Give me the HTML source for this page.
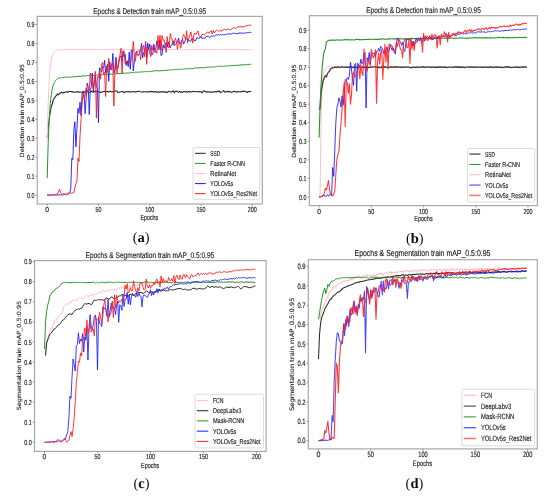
<!DOCTYPE html>
<html lang="en"><head><meta charset="utf-8"><title>Epochs and train mAP_0.5:0.95 curves</title>
<style>
html,body{margin:0;padding:0;background:#fff;}
svg{display:block;font-family:"Liberation Sans",sans-serif;text-rendering:geometricPrecision;}
</style></head><body>
<svg width="550" height="496" viewBox="0 0 550 496">
<defs><filter id="soft" x="0" y="0" width="550" height="496" filterUnits="userSpaceOnUse"><feGaussianBlur stdDeviation="0.38"/></filter></defs>
<rect width="550" height="496" fill="#fff"/>
<g filter="url(#soft)">
<clipPath id="cpa"><rect x="37.2" y="16.4" width="225.10000000000002" height="187.6"/></clipPath>
<g clip-path="url(#cpa)">
<polyline points="47.20,137.52 48.23,127.03 49.25,118.31 50.28,112.05 51.30,106.22 52.33,104.04 53.35,99.36 54.38,98.46 55.40,96.39 56.43,95.48 57.46,93.79 58.48,94.80 59.51,93.47 60.53,93.13 61.56,92.13 62.58,92.97 63.61,92.38 64.63,92.59 65.66,92.06 66.68,91.74 67.71,92.49 68.74,91.39 69.76,91.47 70.79,91.64 71.81,91.44 72.84,92.17 73.86,91.90 74.89,92.28 75.91,91.96 76.94,91.57 77.97,92.15 78.99,92.01 80.02,92.14 81.04,92.22 82.07,92.13 83.09,91.82 84.12,92.34 85.14,91.70 86.17,91.03 87.19,91.46 88.22,91.90 89.25,92.23 90.27,92.17 91.30,91.01 92.32,91.79 93.35,92.12 94.37,91.72 95.40,90.82 96.42,91.76 97.45,91.52 98.48,91.67 99.50,91.98 100.53,92.36 101.55,91.98 102.58,91.91 103.60,91.54 104.63,91.42 105.65,91.37 106.68,91.68 107.70,91.39 108.73,92.17 109.76,91.22 110.78,91.57 111.81,91.95 112.83,91.58 113.86,91.85 114.88,91.28 115.91,91.09 116.93,90.78 117.96,92.48 118.99,92.50 120.01,92.05 121.04,91.74 122.06,91.40 123.09,91.66 124.11,92.77 125.14,91.96 126.16,91.42 127.19,91.70 128.21,91.45 129.24,91.92 130.27,91.91 131.29,91.73 132.32,91.62 133.34,91.72 134.37,91.76 135.39,92.13 136.42,91.63 137.44,91.76 138.47,91.28 139.50,91.24 140.52,91.73 141.55,91.99 142.57,92.12 143.60,91.61 144.62,91.78 145.65,91.98 146.67,91.79 147.70,92.11 148.72,91.48 149.75,92.03 150.78,91.23 151.80,91.62 152.83,91.53 153.85,92.33 154.88,91.73 155.90,91.46 156.93,92.27 157.95,91.94 158.98,91.80 160.00,92.46 161.03,91.66 162.06,91.41 163.08,92.22 164.11,91.65 165.13,92.44 166.16,91.83 167.18,92.58 168.21,91.28 169.23,91.62 170.26,91.83 171.29,92.18 172.31,91.21 173.34,90.88 174.36,92.69 175.39,91.23 176.41,91.04 177.44,91.65 178.46,92.38 179.49,91.40 180.51,91.90 181.54,92.10 182.57,92.40 183.59,91.55 184.62,91.44 185.64,92.11 186.67,91.57 187.69,92.36 188.72,91.43 189.74,91.79 190.77,91.90 191.80,91.86 192.82,91.40 193.85,91.46 194.87,91.56 195.90,91.75 196.92,91.78 197.95,91.52 198.97,91.70 200.00,91.49 201.03,91.96 202.05,92.97 203.08,91.32 204.10,90.78 205.13,91.60 206.15,91.86 207.18,91.88 208.20,91.87 209.23,91.81 210.25,92.35 211.28,92.06 212.31,92.29 213.33,91.70 214.36,91.95 215.38,91.58 216.41,91.90 217.43,91.35 218.46,91.71 219.48,90.77 220.51,92.71 221.54,92.12 222.56,91.39 223.59,90.61 224.61,91.93 225.64,91.79 226.66,91.92 227.69,91.18 228.71,91.95 229.74,91.49 230.76,91.97 231.79,92.42 232.82,91.66 233.84,91.57 234.87,91.20 235.89,91.87 236.92,92.11 237.94,91.55 238.97,91.70 239.99,91.68 241.02,91.85 242.05,91.26 243.07,91.64 244.10,90.91 245.12,91.29 246.15,91.50 247.17,92.59 248.20,91.53 249.22,91.61 250.25,91.43 251.27,91.32" fill="none" stroke="#2a2a2a" stroke-width="1.1" stroke-linejoin="round"/>
<polyline points="47.20,178.19 48.23,141.69 49.25,118.84 50.28,103.54 51.30,94.69 52.33,88.57 53.35,84.54 54.38,82.36 55.40,80.75 56.43,79.69 57.46,78.79 58.48,78.07 59.51,78.10 60.53,78.05 61.56,77.62 62.58,77.66 63.61,77.46 64.63,77.18 65.66,77.39 66.68,77.19 67.71,77.25 68.74,77.06 69.76,76.93 70.79,77.04 71.81,76.87 72.84,76.78 73.86,76.77 74.89,76.78 75.91,76.75 76.94,76.48 77.97,76.43 78.99,75.98 80.02,76.62 81.04,76.16 82.07,76.05 83.09,75.83 84.12,75.88 85.14,76.02 86.17,75.82 87.19,75.66 88.22,75.72 89.25,75.49 90.27,75.82 91.30,75.20 92.32,75.17 93.35,75.37 94.37,75.15 95.40,75.17 96.42,75.23 97.45,75.02 98.48,74.81 99.50,74.95 100.53,74.87 101.55,74.76 102.58,74.61 103.60,74.41 104.63,74.63 105.65,74.38 106.68,74.35 107.70,74.60 108.73,74.31 109.76,74.19 110.78,74.11 111.81,73.98 112.83,74.27 113.86,73.88 114.88,73.92 115.91,73.96 116.93,73.59 117.96,73.49 118.99,73.63 120.01,73.33 121.04,73.44 122.06,73.31 123.09,73.41 124.11,72.93 125.14,73.50 126.16,73.04 127.19,72.85 128.21,73.19 129.24,72.84 130.27,72.76 131.29,72.55 132.32,72.41 133.34,72.59 134.37,72.67 135.39,72.18 136.42,72.13 137.44,72.31 138.47,72.12 139.50,72.04 140.52,71.94 141.55,71.93 142.57,71.67 143.60,72.08 144.62,71.58 145.65,71.61 146.67,71.63 147.70,71.35 148.72,71.81 149.75,71.21 150.78,71.25 151.80,71.41 152.83,71.10 153.85,71.15 154.88,70.64 155.90,70.68 156.93,70.82 157.95,70.92 158.98,70.83 160.00,70.72 161.03,70.68 162.06,70.66 163.08,70.55 164.11,70.43 165.13,70.39 166.16,70.35 167.18,70.31 168.21,69.71 169.23,70.25 170.26,70.11 171.29,69.82 172.31,69.86 173.34,69.68 174.36,69.55 175.39,69.41 176.41,69.41 177.44,69.61 178.46,69.21 179.49,69.58 180.51,69.26 181.54,69.24 182.57,69.26 183.59,68.94 184.62,68.98 185.64,68.73 186.67,69.04 187.69,68.61 188.72,68.59 189.74,68.58 190.77,68.74 191.80,68.49 192.82,68.62 193.85,68.63 194.87,67.74 195.90,68.02 196.92,67.82 197.95,68.09 198.97,67.85 200.00,67.78 201.03,67.72 202.05,67.74 203.08,67.70 204.10,67.91 205.13,67.43 206.15,67.39 207.18,67.21 208.20,67.35 209.23,66.97 210.25,67.23 211.28,67.29 212.31,66.88 213.33,67.02 214.36,67.07 215.38,66.79 216.41,66.62 217.43,66.63 218.46,66.52 219.48,65.90 220.51,66.33 221.54,66.15 222.56,66.61 223.59,66.18 224.61,66.05 225.64,66.15 226.66,66.16 227.69,65.89 228.71,65.93 229.74,65.90 230.76,65.56 231.79,65.46 232.82,65.55 233.84,65.59 234.87,65.37 235.89,65.25 236.92,65.21 237.94,65.46 238.97,65.22 239.99,65.04 241.02,64.93 242.05,64.80 243.07,64.76 244.10,64.98 245.12,64.84 246.15,64.85 247.17,64.32 248.20,64.49 249.22,64.37 250.25,64.22 251.27,64.36" fill="none" stroke="#259425" stroke-width="1.0" stroke-linejoin="round"/>
<polyline points="47.20,142.08 48.23,102.71 49.25,80.11 50.28,67.15 51.30,59.71 52.33,55.44 53.35,53.00 54.38,51.59 55.40,50.79 56.43,50.32 57.46,50.06 58.48,49.91 59.51,49.82 60.53,49.77 61.56,49.74 62.58,49.72 63.61,49.71 64.63,49.71 65.66,49.70 66.68,49.70 67.71,49.70 68.74,49.70 69.76,49.70 70.79,49.70 71.81,49.70 72.84,49.70 73.86,49.70 74.89,49.70 75.91,49.70 76.94,49.70 77.97,49.70 78.99,49.70 80.02,49.70 81.04,49.70 82.07,49.70 83.09,49.70 84.12,49.70 85.14,49.70 86.17,49.70 87.19,49.70 88.22,49.70 89.25,49.70 90.27,49.70 91.30,49.70 92.32,49.70 93.35,49.70 94.37,49.70 95.40,49.70 96.42,49.70 97.45,49.70 98.48,49.70 99.50,49.70 100.53,49.70 101.55,49.70 102.58,49.70 103.60,49.70 104.63,49.70 105.65,49.70 106.68,49.70 107.70,49.70 108.73,49.70 109.76,49.70 110.78,49.70 111.81,49.70 112.83,49.70 113.86,49.70 114.88,49.70 115.91,49.70 116.93,49.70 117.96,49.70 118.99,49.70 120.01,49.70 121.04,49.70 122.06,49.70 123.09,49.70 124.11,49.70 125.14,49.70 126.16,49.70 127.19,49.70 128.21,49.70 129.24,49.70 130.27,49.70 131.29,49.70 132.32,49.70 133.34,49.70 134.37,49.70 135.39,49.70 136.42,49.70 137.44,49.70 138.47,49.70 139.50,49.70 140.52,49.70 141.55,49.70 142.57,49.70 143.60,49.70 144.62,49.70 145.65,49.70 146.67,49.70 147.70,49.70 148.72,49.70 149.75,49.70 150.78,49.70 151.80,49.70 152.83,49.70 153.85,49.70 154.88,49.70 155.90,49.70 156.93,49.70 157.95,49.70 158.98,49.70 160.00,49.70 161.03,49.70 162.06,49.70 163.08,49.70 164.11,49.70 165.13,49.70 166.16,49.70 167.18,49.70 168.21,49.70 169.23,49.70 170.26,49.70 171.29,49.70 172.31,49.70 173.34,49.70 174.36,49.70 175.39,49.70 176.41,49.70 177.44,49.70 178.46,49.70 179.49,49.70 180.51,49.70 181.54,49.70 182.57,49.70 183.59,49.70 184.62,49.70 185.64,49.70 186.67,49.70 187.69,49.70 188.72,49.70 189.74,49.70 190.77,49.70 191.80,49.70 192.82,49.70 193.85,49.70 194.87,49.70 195.90,49.70 196.92,49.70 197.95,49.70 198.97,49.70 200.00,49.70 201.03,49.70 202.05,49.70 203.08,49.70 204.10,49.70 205.13,49.70 206.15,49.70 207.18,49.70 208.20,49.70 209.23,49.70 210.25,49.70 211.28,49.70 212.31,49.70 213.33,49.70 214.36,49.70 215.38,49.70 216.41,49.70 217.43,49.70 218.46,49.70 219.48,49.70 220.51,49.70 221.54,49.70 222.56,49.70 223.59,49.70 224.61,49.70 225.64,49.70 226.66,49.70 227.69,49.70 228.71,49.70 229.74,49.70 230.76,49.70 231.79,49.70 232.82,49.70 233.84,49.70 234.87,49.70 235.89,49.70 236.92,49.70 237.94,49.70 238.97,49.70 239.99,49.70 241.02,49.70 242.05,49.70 243.07,49.70 244.10,49.70 245.12,49.70 246.15,49.70 247.17,49.70 248.20,49.70 249.22,49.70 250.25,49.70 251.27,49.70" fill="none" stroke="#ffbfcb" stroke-width="1.0" stroke-linejoin="round"/>
<polyline points="47.20,194.80 48.23,195.20 49.25,195.20 50.28,195.20 51.30,195.07 52.33,195.16 53.35,195.15 54.38,194.93 55.40,194.84 56.43,195.20 57.46,195.14 58.48,195.04 59.51,194.68 60.53,194.69 61.56,195.16 62.58,195.13 63.61,194.50 64.63,194.26 65.66,194.67 66.68,194.85 67.71,194.26 68.74,194.09 69.76,193.04 70.79,188.22 71.81,158.08 72.84,159.68 73.86,130.31 74.89,121.78 75.91,146.83 76.94,128.68 77.97,108.33 78.99,113.29 80.02,102.14 81.04,115.53 82.07,94.11 83.09,91.27 84.12,94.15 85.14,113.63 86.17,98.67 87.19,83.15 88.22,86.80 89.25,114.58 90.27,89.70 91.30,86.67 92.32,73.10 93.35,92.21 94.37,82.29 95.40,76.20 96.42,87.26 97.45,88.26 98.48,122.73 99.50,67.75 100.53,69.50 101.55,72.03 102.58,66.88 103.60,68.06 104.63,60.32 105.65,73.13 106.68,67.93 107.70,63.89 108.73,81.25 109.76,62.04 110.78,69.57 111.81,69.60 112.83,53.45 113.86,73.03 114.88,70.53 115.91,57.23 116.93,67.61 117.96,68.02 118.99,61.80 120.01,56.93 121.04,55.76 122.06,61.38 123.09,50.78 124.11,56.92 125.14,54.29 126.16,65.47 127.19,60.68 128.21,66.62 129.24,52.14 130.27,69.15 131.29,49.95 132.32,49.91 133.34,70.95 134.37,60.43 135.39,54.52 136.42,51.45 137.44,55.18 138.47,55.30 139.50,52.84 140.52,51.19 141.55,43.42 142.57,57.94 143.60,52.65 144.62,51.37 145.65,44.45 146.67,57.85 147.70,42.96 148.72,49.76 149.75,43.96 150.78,51.17 151.80,54.90 152.83,53.97 153.85,44.19 154.88,50.78 155.90,47.67 156.93,40.78 157.95,43.72 158.98,49.61 160.00,40.04 161.03,55.49 162.06,54.89 163.08,44.71 164.11,48.33 165.13,45.26 166.16,42.58 167.18,46.91 168.21,41.75 169.23,45.64 170.26,47.88 171.29,44.93 172.31,44.77 173.34,40.73 174.36,45.54 175.39,44.44 176.41,43.22 177.44,42.27 178.46,38.05 179.49,42.50 180.51,44.06 181.54,40.75 182.57,39.31 183.59,44.12 184.62,42.41 185.64,38.91 186.67,38.48 187.69,39.79 188.72,40.26 189.74,40.76 190.77,41.40 191.80,38.64 192.82,39.33 193.85,39.41 194.87,41.06 195.90,40.07 196.92,37.66 197.95,37.83 198.97,38.52 200.00,37.86 201.03,36.79 202.05,38.62 203.08,37.87 204.10,38.36 205.13,38.03 206.15,36.62 207.18,36.40 208.20,36.38 209.23,37.24 210.25,37.16 211.28,36.18 212.31,36.41 213.33,35.84 214.36,36.11 215.38,35.36 216.41,34.96 217.43,34.78 218.46,34.64 219.48,35.10 220.51,34.65 221.54,35.01 222.56,34.47 223.59,34.74 224.61,34.71 225.64,34.63 226.66,34.03 227.69,33.99 228.71,33.88 229.74,34.18 230.76,33.64 231.79,34.00 232.82,33.09 233.84,33.47 234.87,33.32 235.89,33.39 236.92,33.74 237.94,33.57 238.97,33.18 239.99,32.69 241.02,33.34 242.05,33.14 243.07,32.91 244.10,33.24 245.12,33.17 246.15,32.82 247.17,32.70 248.20,32.69 249.22,32.23 250.25,32.52 251.27,32.38" fill="none" stroke="#1a1aff" stroke-width="0.9" stroke-linejoin="round"/>
<polyline points="47.20,195.10 48.23,195.20 49.25,195.00 50.28,195.20 51.30,194.71 52.33,195.20 53.35,194.72 54.38,194.73 55.40,194.82 56.43,193.97 57.46,194.61 58.48,191.84 59.51,189.09 60.53,192.35 61.56,193.79 62.58,194.20 63.61,193.55 64.63,194.18 65.66,194.10 66.68,193.13 67.71,193.19 68.74,193.31 69.76,192.85 70.79,192.76 71.81,193.41 72.84,193.01 73.86,192.28 74.89,187.92 75.91,183.62 76.94,180.89 77.97,158.18 78.99,161.53 80.02,136.24 81.04,119.72 82.07,104.90 83.09,93.04 84.12,99.08 85.14,95.32 86.17,88.21 87.19,91.64 88.22,89.17 89.25,90.54 90.27,73.16 91.30,85.13 92.32,82.75 93.35,89.20 94.37,78.85 95.40,71.38 96.42,118.18 97.45,76.61 98.48,77.58 99.50,71.96 100.53,79.17 101.55,64.52 102.58,62.23 103.60,74.60 104.63,72.38 105.65,96.56 106.68,65.95 107.70,72.26 108.73,58.32 109.76,67.31 110.78,69.61 111.81,63.78 112.83,64.03 113.86,106.04 114.88,71.46 115.91,59.03 116.93,73.38 117.96,66.11 118.99,59.39 120.01,54.72 121.04,48.26 122.06,73.79 123.09,52.38 124.11,51.07 125.14,63.96 126.16,61.72 127.19,63.53 128.21,63.15 129.24,61.92 130.27,63.43 131.29,58.61 132.32,55.14 133.34,41.30 134.37,56.49 135.39,61.22 136.42,53.24 137.44,51.35 138.47,51.04 139.50,50.32 140.52,59.74 141.55,51.36 142.57,47.21 143.60,45.23 144.62,56.66 145.65,41.23 146.67,64.31 147.70,48.78 148.72,49.17 149.75,53.17 150.78,56.66 151.80,45.30 152.83,50.25 153.85,46.56 154.88,52.66 155.90,50.98 156.93,53.27 157.95,35.62 158.98,47.16 160.00,35.40 161.03,50.46 162.06,35.53 163.08,40.16 164.11,39.75 165.13,45.07 166.16,52.62 167.18,36.63 168.21,47.47 169.23,47.14 170.26,33.47 171.29,37.52 172.31,40.15 173.34,45.06 174.36,42.93 175.39,38.10 176.41,41.55 177.44,49.27 178.46,42.09 179.49,40.96 180.51,48.14 181.54,45.21 182.57,37.24 183.59,34.47 184.62,36.49 185.64,39.77 186.67,30.89 187.69,42.88 188.72,38.52 189.74,35.69 190.77,32.00 191.80,36.40 192.82,43.07 193.85,35.12 194.87,32.92 195.90,34.37 196.92,32.73 197.95,30.99 198.97,35.50 200.00,37.08 201.03,36.77 202.05,34.58 203.08,34.23 204.10,35.04 205.13,34.36 206.15,33.12 207.18,32.17 208.20,32.34 209.23,33.23 210.25,31.21 211.28,30.90 212.31,34.12 213.33,30.36 214.36,32.94 215.38,31.93 216.41,30.09 217.43,30.32 218.46,31.36 219.48,30.98 220.51,30.12 221.54,31.42 222.56,29.74 223.59,29.81 224.61,29.16 225.64,29.67 226.66,30.22 227.69,28.81 228.71,29.31 229.74,29.63 230.76,29.50 231.79,29.00 232.82,28.32 233.84,27.49 234.87,27.96 235.89,28.27 236.92,27.75 237.94,26.87 238.97,26.56 239.99,27.27 241.02,26.58 242.05,26.58 243.07,27.18 244.10,26.68 245.12,26.05 246.15,25.83 247.17,25.65 248.20,25.52 249.22,24.96 250.25,25.16 251.27,25.20" fill="none" stroke="#ff1a1a" stroke-width="0.9" stroke-linejoin="round"/>
</g>
<rect x="37.2" y="16.4" width="225.10" height="187.60" fill="none" stroke="#a8a8a8" stroke-width="1.2"/>
<line x1="35.40" x2="37.20" y1="195.20" y2="195.20" stroke="#777" stroke-width="0.7"/>
<text x="26.90" y="197.80" font-size="7.3" textLength="7.50" lengthAdjust="spacingAndGlyphs" fill="#1a1a1a" stroke="#1a1a1a" stroke-width="0.15" >0.0</text>
<line x1="35.40" x2="37.20" y1="176.23" y2="176.23" stroke="#777" stroke-width="0.7"/>
<text x="26.90" y="178.83" font-size="7.3" textLength="7.50" lengthAdjust="spacingAndGlyphs" fill="#1a1a1a" stroke="#1a1a1a" stroke-width="0.15" >0.1</text>
<line x1="35.40" x2="37.20" y1="157.26" y2="157.26" stroke="#777" stroke-width="0.7"/>
<text x="26.90" y="159.86" font-size="7.3" textLength="7.50" lengthAdjust="spacingAndGlyphs" fill="#1a1a1a" stroke="#1a1a1a" stroke-width="0.15" >0.2</text>
<line x1="35.40" x2="37.20" y1="138.29" y2="138.29" stroke="#777" stroke-width="0.7"/>
<text x="26.90" y="140.89" font-size="7.3" textLength="7.50" lengthAdjust="spacingAndGlyphs" fill="#1a1a1a" stroke="#1a1a1a" stroke-width="0.15" >0.3</text>
<line x1="35.40" x2="37.20" y1="119.32" y2="119.32" stroke="#777" stroke-width="0.7"/>
<text x="26.90" y="121.92" font-size="7.3" textLength="7.50" lengthAdjust="spacingAndGlyphs" fill="#1a1a1a" stroke="#1a1a1a" stroke-width="0.15" >0.4</text>
<line x1="35.40" x2="37.20" y1="100.35" y2="100.35" stroke="#777" stroke-width="0.7"/>
<text x="26.90" y="102.95" font-size="7.3" textLength="7.50" lengthAdjust="spacingAndGlyphs" fill="#1a1a1a" stroke="#1a1a1a" stroke-width="0.15" >0.5</text>
<line x1="35.40" x2="37.20" y1="81.38" y2="81.38" stroke="#777" stroke-width="0.7"/>
<text x="26.90" y="83.98" font-size="7.3" textLength="7.50" lengthAdjust="spacingAndGlyphs" fill="#1a1a1a" stroke="#1a1a1a" stroke-width="0.15" >0.6</text>
<line x1="35.40" x2="37.20" y1="62.41" y2="62.41" stroke="#777" stroke-width="0.7"/>
<text x="26.90" y="65.01" font-size="7.3" textLength="7.50" lengthAdjust="spacingAndGlyphs" fill="#1a1a1a" stroke="#1a1a1a" stroke-width="0.15" >0.7</text>
<line x1="35.40" x2="37.20" y1="43.44" y2="43.44" stroke="#777" stroke-width="0.7"/>
<text x="26.90" y="46.04" font-size="7.3" textLength="7.50" lengthAdjust="spacingAndGlyphs" fill="#1a1a1a" stroke="#1a1a1a" stroke-width="0.15" >0.8</text>
<line x1="35.40" x2="37.20" y1="24.47" y2="24.47" stroke="#777" stroke-width="0.7"/>
<text x="26.90" y="27.07" font-size="7.3" textLength="7.50" lengthAdjust="spacingAndGlyphs" fill="#1a1a1a" stroke="#1a1a1a" stroke-width="0.15" >0.9</text>
<line x1="47.20" x2="47.20" y1="204.00" y2="205.80" stroke="#777" stroke-width="0.7"/>
<text x="45.33" y="212.00" font-size="7.3" textLength="3.75" lengthAdjust="spacingAndGlyphs" fill="#1a1a1a" stroke="#1a1a1a" stroke-width="0.15" >0</text>
<line x1="98.48" x2="98.48" y1="204.00" y2="205.80" stroke="#777" stroke-width="0.7"/>
<text x="95.48" y="212.00" font-size="7.3" textLength="6.00" lengthAdjust="spacingAndGlyphs" fill="#1a1a1a" stroke="#1a1a1a" stroke-width="0.15" >50</text>
<line x1="149.75" x2="149.75" y1="204.00" y2="205.80" stroke="#777" stroke-width="0.7"/>
<text x="145.25" y="212.00" font-size="7.3" textLength="9.00" lengthAdjust="spacingAndGlyphs" fill="#1a1a1a" stroke="#1a1a1a" stroke-width="0.15" >100</text>
<line x1="201.03" x2="201.03" y1="204.00" y2="205.80" stroke="#777" stroke-width="0.7"/>
<text x="196.53" y="212.00" font-size="7.3" textLength="9.00" lengthAdjust="spacingAndGlyphs" fill="#1a1a1a" stroke="#1a1a1a" stroke-width="0.15" >150</text>
<line x1="252.30" x2="252.30" y1="204.00" y2="205.80" stroke="#777" stroke-width="0.7"/>
<text x="247.80" y="212.00" font-size="7.3" textLength="9.00" lengthAdjust="spacingAndGlyphs" fill="#1a1a1a" stroke="#1a1a1a" stroke-width="0.15" >200</text>
<text x="140.40" y="220.00" font-size="7.3" textLength="17.80" lengthAdjust="spacingAndGlyphs" fill="#1a1a1a" stroke="#1a1a1a" stroke-width="0.15" >Epochs</text>
<text transform="translate(23.80,157.15) rotate(-90)" font-family="DejaVu Sans, sans-serif" font-size="5.7" textLength="93.30" lengthAdjust="spacingAndGlyphs" fill="#1a1a1a" stroke="#1a1a1a" stroke-width="0.1">Detection train mAP_0.5:0.95</text>
<text x="93.30" y="13.80" font-size="8.3" textLength="112.80" lengthAdjust="spacingAndGlyphs" fill="#1a1a1a" stroke="#1a1a1a" stroke-width="0.15" >Epochs &amp; Detection train mAP_0.5:0.95</text>
<rect x="193.00" y="147.50" width="66.70" height="52.10" rx="1.2" fill="#fff" fill-opacity="0.85" stroke="#d4d4d4" stroke-width="0.8"/>
<line x1="195.00" x2="205.70" y1="153.30" y2="153.30" stroke="#222" stroke-width="1.0"/>
<text x="210.30" y="155.75" font-size="7.1" textLength="9.90" lengthAdjust="spacingAndGlyphs" fill="#1a1a1a" stroke="#1a1a1a" stroke-width="0.15" >SSD</text>
<line x1="195.00" x2="205.70" y1="163.40" y2="163.40" stroke="#259425" stroke-width="1.0"/>
<text x="210.30" y="165.85" font-size="7.1" textLength="34.60" lengthAdjust="spacingAndGlyphs" fill="#1a1a1a" stroke="#1a1a1a" stroke-width="0.15" >Faster R-CNN</text>
<line x1="195.00" x2="205.70" y1="173.50" y2="173.50" stroke="#ffbfcb" stroke-width="1.0"/>
<text x="210.30" y="175.95" font-size="7.1" textLength="25.70" lengthAdjust="spacingAndGlyphs" fill="#1a1a1a" stroke="#1a1a1a" stroke-width="0.15" >RetinaNet</text>
<line x1="195.00" x2="205.70" y1="183.60" y2="183.60" stroke="#1a1aff" stroke-width="1.0"/>
<text x="210.30" y="186.05" font-size="7.1" textLength="22.90" lengthAdjust="spacingAndGlyphs" fill="#1a1a1a" stroke="#1a1a1a" stroke-width="0.15" >YOLOv5s</text>
<line x1="195.00" x2="205.70" y1="193.70" y2="193.70" stroke="#ff1a1a" stroke-width="1.0"/>
<text x="210.30" y="196.15" font-size="7.1" textLength="46.80" lengthAdjust="spacingAndGlyphs" fill="#1a1a1a" stroke="#1a1a1a" stroke-width="0.15" >YOLOv5s_Res2Net</text>
<text x="141.20" y="242.30" font-family="Liberation Serif, serif" font-size="14.5" text-anchor="middle" fill="#111">(<tspan font-weight="bold">a</tspan>)</text>
<clipPath id="cpb"><rect x="309.4" y="15.7" width="228.0" height="189.9"/></clipPath>
<g clip-path="url(#cpb)">
<polyline points="319.10,196.92 320.14,193.35 321.19,113.07 322.23,82.04 323.28,74.55 324.32,71.03 325.37,68.25 326.41,67.26 327.46,66.19 328.50,66.28 329.55,66.44 330.59,66.26 331.63,66.29 332.68,66.11 333.72,66.53 334.77,66.35 335.81,66.01 336.86,65.88 337.90,66.50 338.95,66.10 339.99,66.40 341.03,66.38 342.08,66.38 343.12,66.30 344.17,66.04 345.21,66.09 346.26,66.30 347.30,66.48 348.35,66.50 349.39,66.61 350.44,66.54 351.48,66.90 352.52,66.87 353.57,66.98 354.61,67.07 355.66,67.10 356.70,67.11 357.75,66.90 358.79,67.17 359.84,66.86 360.88,67.21 361.92,67.24 362.97,67.13 364.01,67.08 365.06,67.10 366.10,66.91 367.15,66.94 368.19,67.06 369.24,67.21 370.28,67.17 371.33,66.89 372.37,67.11 373.41,67.39 374.46,67.28 375.50,67.26 376.55,66.94 377.59,67.17 378.64,66.73 379.68,67.03 380.73,67.13 381.77,67.23 382.81,66.97 383.86,67.19 384.90,67.30 385.95,67.04 386.99,67.15 388.04,66.93 389.08,67.16 390.13,67.68 391.17,67.00 392.22,67.50 393.26,66.86 394.30,66.81 395.35,67.23 396.39,67.37 397.44,67.41 398.48,66.99 399.53,67.19 400.57,67.26 401.62,67.20 402.66,66.76 403.70,67.09 404.75,67.01 405.79,67.01 406.84,66.96 407.88,66.95 408.93,67.28 409.97,67.19 411.02,67.29 412.06,67.28 413.11,66.94 414.15,67.24 415.19,67.16 416.24,67.28 417.28,67.26 418.33,67.00 419.37,67.23 420.42,67.24 421.46,67.06 422.51,67.06 423.55,67.00 424.59,67.12 425.64,67.48 426.68,67.03 427.73,67.06 428.77,66.96 429.82,67.31 430.86,66.68 431.91,67.38 432.95,67.02 434.00,67.14 435.04,67.24 436.08,67.00 437.13,67.20 438.17,67.58 439.22,67.37 440.26,67.07 441.31,66.73 442.35,67.42 443.40,67.15 444.44,66.88 445.48,67.04 446.53,67.22 447.57,67.41 448.62,67.48 449.66,67.29 450.71,67.22 451.75,67.57 452.80,67.46 453.84,67.09 454.88,67.23 455.93,67.29 456.97,67.23 458.02,67.30 459.06,66.98 460.11,66.85 461.15,66.77 462.20,67.02 463.24,67.01 464.29,66.88 465.33,66.83 466.37,66.88 467.42,66.93 468.46,67.27 469.51,67.45 470.55,66.99 471.60,67.17 472.64,67.16 473.69,67.31 474.73,67.39 475.78,66.89 476.82,67.06 477.86,67.35 478.91,67.08 479.95,67.09 481.00,67.05 482.04,66.74 483.09,67.16 484.13,67.39 485.18,67.14 486.22,67.27 487.26,67.05 488.31,67.11 489.35,67.09 490.40,67.26 491.44,67.07 492.49,67.24 493.53,67.05 494.58,67.21 495.62,67.36 496.67,67.06 497.71,67.28 498.75,66.88 499.80,67.07 500.84,67.06 501.89,67.13 502.93,67.16 503.98,67.59 505.02,66.92 506.07,67.30 507.11,66.97 508.15,67.27 509.20,67.18 510.24,67.19 511.29,67.34 512.33,67.18 513.38,67.06 514.42,67.23 515.47,67.38 516.51,67.26 517.56,67.10 518.60,66.94 519.64,66.99 520.69,67.10 521.73,67.33 522.78,66.98 523.82,67.15 524.87,67.19 525.91,66.98 526.96,67.04" fill="none" stroke="#ffbfcb" stroke-width="1.0" stroke-linejoin="round"/>
<polyline points="319.10,109.42 320.14,107.86 321.19,91.24 322.23,86.11 323.28,80.20 324.32,77.90 325.37,75.52 326.41,76.94 327.46,73.65 328.50,72.20 329.55,70.84 330.59,68.81 331.63,68.35 332.68,67.70 333.72,67.60 334.77,67.24 335.81,67.27 336.86,67.49 337.90,66.93 338.95,67.40 339.99,67.41 341.03,67.20 342.08,66.82 343.12,67.10 344.17,67.38 345.21,67.31 346.26,67.01 347.30,67.19 348.35,67.32 349.39,67.20 350.44,66.98 351.48,66.71 352.52,67.43 353.57,67.29 354.61,67.33 355.66,67.69 356.70,67.36 357.75,67.38 358.79,66.90 359.84,67.18 360.88,67.51 361.92,67.01 362.97,67.23 364.01,67.54 365.06,67.28 366.10,67.28 367.15,67.34 368.19,67.14 369.24,67.65 370.28,67.21 371.33,66.92 372.37,66.96 373.41,66.90 374.46,66.90 375.50,66.82 376.55,67.40 377.59,66.96 378.64,67.56 379.68,67.28 380.73,67.58 381.77,66.92 382.81,66.85 383.86,67.19 384.90,66.75 385.95,67.30 386.99,67.12 388.04,67.12 389.08,67.39 390.13,67.05 391.17,66.72 392.22,67.38 393.26,66.95 394.30,67.18 395.35,66.76 396.39,67.04 397.44,67.00 398.48,67.01 399.53,67.09 400.57,67.46 401.62,66.84 402.66,67.46 403.70,67.10 404.75,67.01 405.79,67.34 406.84,67.12 407.88,66.89 408.93,67.16 409.97,67.35 411.02,67.80 412.06,67.37 413.11,67.28 414.15,67.26 415.19,67.36 416.24,67.07 417.28,67.28 418.33,67.17 419.37,67.00 420.42,67.34 421.46,67.22 422.51,66.67 423.55,66.96 424.59,67.44 425.64,67.17 426.68,67.02 427.73,66.88 428.77,67.12 429.82,67.27 430.86,67.31 431.91,67.01 432.95,67.08 434.00,67.27 435.04,67.19 436.08,67.24 437.13,66.99 438.17,67.30 439.22,67.04 440.26,66.96 441.31,67.04 442.35,67.34 443.40,66.85 444.44,67.30 445.48,67.06 446.53,67.32 447.57,67.54 448.62,67.10 449.66,67.09 450.71,67.17 451.75,67.09 452.80,67.29 453.84,67.31 454.88,67.19 455.93,66.72 456.97,66.97 458.02,67.27 459.06,67.03 460.11,67.26 461.15,67.25 462.20,66.96 463.24,67.27 464.29,67.52 465.33,67.35 466.37,67.13 467.42,67.12 468.46,66.87 469.51,67.31 470.55,66.99 471.60,67.06 472.64,67.18 473.69,66.96 474.73,67.04 475.78,67.34 476.82,66.91 477.86,67.42 478.91,67.14 479.95,67.15 481.00,67.06 482.04,67.31 483.09,67.16 484.13,67.18 485.18,66.93 486.22,67.33 487.26,67.13 488.31,67.21 489.35,67.44 490.40,66.55 491.44,67.17 492.49,67.48 493.53,66.84 494.58,67.39 495.62,67.07 496.67,66.96 497.71,67.29 498.75,67.25 499.80,67.27 500.84,67.18 501.89,67.51 502.93,67.43 503.98,67.18 505.02,66.92 506.07,67.01 507.11,66.77 508.15,67.00 509.20,67.26 510.24,67.18 511.29,67.60 512.33,67.36 513.38,67.38 514.42,67.09 515.47,67.01 516.51,67.27 517.56,67.28 518.60,67.49 519.64,67.18 520.69,67.09 521.73,67.05 522.78,67.32 523.82,66.71 524.87,66.88 525.91,67.17 526.96,67.27" fill="none" stroke="#000" stroke-width="1.4" stroke-linejoin="round" stroke-opacity="0.72"/>
<polyline points="319.10,137.63 320.14,104.18 321.19,82.14 322.23,67.05 323.28,56.08 324.32,50.69 325.37,48.70 326.41,42.02 327.46,41.13 328.50,40.42 329.55,40.14 330.59,40.22 331.63,40.12 332.68,40.11 333.72,40.31 334.77,40.06 335.81,40.18 336.86,39.84 337.90,39.94 338.95,40.02 339.99,40.15 341.03,39.97 342.08,39.93 343.12,40.12 344.17,39.58 345.21,39.83 346.26,39.62 347.30,40.01 348.35,39.58 349.39,40.00 350.44,39.87 351.48,39.67 352.52,39.73 353.57,40.06 354.61,39.85 355.66,39.54 356.70,39.33 357.75,39.48 358.79,39.64 359.84,39.46 360.88,39.72 361.92,39.45 362.97,39.71 364.01,39.48 365.06,39.48 366.10,39.32 367.15,39.46 368.19,39.21 369.24,39.40 370.28,39.22 371.33,39.21 372.37,39.58 373.41,39.28 374.46,39.26 375.50,39.37 376.55,39.21 377.59,39.43 378.64,39.11 379.68,39.10 380.73,39.11 381.77,38.77 382.81,39.07 383.86,39.09 384.90,39.19 385.95,39.02 386.99,39.19 388.04,38.84 389.08,39.11 390.13,38.97 391.17,38.68 392.22,38.78 393.26,38.90 394.30,38.71 395.35,38.91 396.39,38.76 397.44,38.86 398.48,38.98 399.53,38.76 400.57,38.67 401.62,38.84 402.66,38.93 403.70,38.83 404.75,39.08 405.79,38.80 406.84,38.85 407.88,38.38 408.93,38.74 409.97,38.87 411.02,38.49 412.06,38.63 413.11,38.58 414.15,38.54 415.19,38.51 416.24,38.58 417.28,38.37 418.33,38.41 419.37,38.55 420.42,38.48 421.46,38.57 422.51,38.37 423.55,38.29 424.59,38.29 425.64,38.29 426.68,38.39 427.73,38.13 428.77,38.38 429.82,38.34 430.86,38.38 431.91,38.31 432.95,38.35 434.00,38.00 435.04,38.23 436.08,38.53 437.13,38.34 438.17,38.48 439.22,38.13 440.26,38.04 441.31,38.31 442.35,38.14 443.40,38.25 444.44,38.15 445.48,37.94 446.53,38.24 447.57,38.37 448.62,38.07 449.66,38.09 450.71,38.05 451.75,37.99 452.80,38.24 453.84,38.42 454.88,37.96 455.93,38.17 456.97,38.28 458.02,38.26 459.06,37.91 460.11,38.04 461.15,38.02 462.20,37.92 463.24,38.14 464.29,38.20 465.33,38.15 466.37,38.18 467.42,38.05 468.46,38.13 469.51,37.98 470.55,38.05 471.60,37.98 472.64,37.86 473.69,37.74 474.73,37.71 475.78,37.91 476.82,37.89 477.86,37.99 478.91,37.75 479.95,37.66 481.00,37.97 482.04,37.76 483.09,37.91 484.13,37.88 485.18,37.82 486.22,37.89 487.26,37.69 488.31,38.04 489.35,37.91 490.40,37.82 491.44,37.94 492.49,37.73 493.53,37.99 494.58,37.75 495.62,37.96 496.67,37.76 497.71,37.66 498.75,37.40 499.80,37.55 500.84,37.46 501.89,37.68 502.93,37.37 503.98,37.71 505.02,37.70 506.07,37.85 507.11,37.62 508.15,37.48 509.20,37.72 510.24,37.67 511.29,37.68 512.33,37.65 513.38,37.68 514.42,37.78 515.47,37.37 516.51,37.86 517.56,37.69 518.60,37.49 519.64,37.39 520.69,37.56 521.73,37.56 522.78,37.50 523.82,37.54 524.87,37.36 525.91,37.55 526.96,37.62" fill="none" stroke="#259425" stroke-width="1.1" stroke-linejoin="round"/>
<polyline points="319.10,197.00 320.14,196.82 321.19,196.43 322.23,196.69 323.28,195.47 324.32,195.14 325.37,197.00 326.41,195.95 327.46,194.49 328.50,196.28 329.55,195.41 330.59,193.87 331.63,195.65 332.68,167.50 333.72,176.37 334.77,150.79 335.81,122.72 336.86,108.05 337.90,104.30 338.95,97.93 339.99,101.25 341.03,107.17 342.08,95.85 343.12,105.23 344.17,93.25 345.21,79.51 346.26,80.77 347.30,77.69 348.35,79.47 349.39,75.50 350.44,62.31 351.48,68.97 352.52,79.05 353.57,85.28 354.61,64.42 355.66,63.29 356.70,91.27 357.75,63.18 358.79,66.72 359.84,65.80 360.88,59.05 361.92,63.72 362.97,61.76 364.01,53.87 365.06,52.48 366.10,107.96 367.15,57.73 368.19,60.74 369.24,52.43 370.28,64.42 371.33,54.75 372.37,53.21 373.41,53.62 374.46,53.15 375.50,56.76 376.55,51.52 377.59,51.43 378.64,48.33 379.68,51.22 380.73,46.40 381.77,47.58 382.81,49.29 383.86,53.66 384.90,53.35 385.95,49.54 386.99,46.91 388.04,52.41 389.08,50.71 390.13,45.28 391.17,47.57 392.22,50.30 393.26,47.86 394.30,50.91 395.35,54.15 396.39,43.19 397.44,38.46 398.48,38.20 399.53,41.12 400.57,41.66 401.62,45.29 402.66,42.33 403.70,49.63 404.75,51.46 405.79,43.61 406.84,38.92 407.88,39.71 408.93,39.51 409.97,39.25 411.02,42.47 412.06,45.88 413.11,41.09 414.15,45.47 415.19,41.20 416.24,38.28 417.28,41.27 418.33,38.81 419.37,40.90 420.42,37.57 421.46,42.79 422.51,42.15 423.55,36.71 424.59,41.15 425.64,39.44 426.68,37.00 427.73,36.45 428.77,37.72 429.82,38.64 430.86,37.20 431.91,39.90 432.95,39.21 434.00,39.06 435.04,36.96 436.08,36.79 437.13,38.39 438.17,36.08 439.22,38.14 440.26,36.54 441.31,36.95 442.35,36.39 443.40,36.77 444.44,36.90 445.48,34.84 446.53,37.30 447.57,35.45 448.62,35.90 449.66,36.15 450.71,36.56 451.75,35.26 452.80,35.20 453.84,34.09 454.88,34.98 455.93,35.62 456.97,35.24 458.02,33.78 459.06,33.97 460.11,34.51 461.15,32.80 462.20,33.62 463.24,33.88 464.29,33.47 465.33,34.13 466.37,33.49 467.42,33.89 468.46,32.87 469.51,32.88 470.55,33.13 471.60,32.38 472.64,33.24 473.69,32.48 474.73,32.82 475.78,33.10 476.82,32.19 477.86,31.71 478.91,31.74 479.95,32.23 481.00,32.08 482.04,31.43 483.09,32.57 484.13,31.33 485.18,32.65 486.22,32.27 487.26,31.90 488.31,31.80 489.35,31.27 490.40,31.91 491.44,31.54 492.49,31.55 493.53,31.20 494.58,30.96 495.62,30.84 496.67,30.91 497.71,30.88 498.75,30.86 499.80,31.35 500.84,31.35 501.89,30.58 502.93,31.09 503.98,30.75 505.02,30.40 506.07,30.50 507.11,30.51 508.15,30.52 509.20,30.09 510.24,29.62 511.29,30.48 512.33,30.03 513.38,29.57 514.42,29.76 515.47,29.91 516.51,29.71 517.56,29.55 518.60,29.29 519.64,29.94 520.69,29.71 521.73,29.36 522.78,29.23 523.82,29.22 524.87,29.15 525.91,28.95 526.96,29.00" fill="none" stroke="#1a1aff" stroke-width="0.95" stroke-linejoin="round" stroke-opacity="0.9"/>
<polyline points="319.10,197.00 320.14,196.98 321.19,196.31 322.23,196.31 323.28,194.86 324.32,193.50 325.37,188.45 326.41,189.83 327.46,185.72 328.50,180.45 329.55,189.56 330.59,194.85 331.63,195.26 332.68,195.86 333.72,194.02 334.77,191.12 335.81,174.51 336.86,159.61 337.90,154.83 338.95,151.06 339.99,135.31 341.03,123.21 342.08,108.25 343.12,93.62 344.17,82.72 345.21,126.51 346.26,81.26 347.30,82.86 348.35,93.11 349.39,83.68 350.44,104.25 351.48,95.77 352.52,74.74 353.57,72.14 354.61,77.05 355.66,76.43 356.70,73.44 357.75,68.72 358.79,66.29 359.84,78.71 360.88,65.11 361.92,72.97 362.97,75.39 364.01,48.95 365.06,63.62 366.10,67.91 367.15,71.06 368.19,59.81 369.24,63.12 370.28,65.26 371.33,49.35 372.37,55.62 373.41,57.96 374.46,54.50 375.50,49.70 376.55,103.32 377.59,61.89 378.64,52.91 379.68,63.97 380.73,52.35 381.77,49.50 382.81,79.58 383.86,58.84 384.90,44.09 385.95,62.24 386.99,46.87 388.04,69.01 389.08,43.97 390.13,44.50 391.17,45.48 392.22,46.25 393.26,49.74 394.30,52.25 395.35,50.64 396.39,42.63 397.44,46.37 398.48,39.46 399.53,45.31 400.57,49.60 401.62,50.10 402.66,57.88 403.70,42.73 404.75,38.81 405.79,39.54 406.84,47.76 407.88,47.39 408.93,39.76 409.97,63.44 411.02,38.05 412.06,49.03 413.11,41.61 414.15,50.71 415.19,42.09 416.24,42.72 417.28,40.96 418.33,39.29 419.37,39.91 420.42,38.84 421.46,39.06 422.51,52.31 423.55,33.35 424.59,39.79 425.64,35.71 426.68,39.08 427.73,40.62 428.77,38.82 429.82,35.74 430.86,39.75 431.91,34.11 432.95,38.39 434.00,35.63 435.04,34.68 436.08,36.02 437.13,48.04 438.17,38.38 439.22,35.52 440.26,44.89 441.31,34.00 442.35,36.30 443.40,36.26 444.44,31.69 445.48,35.21 446.53,33.62 447.57,41.92 448.62,32.28 449.66,38.15 450.71,35.14 451.75,35.65 452.80,33.47 453.84,33.49 454.88,35.74 455.93,33.04 456.97,34.04 458.02,31.67 459.06,32.98 460.11,31.96 461.15,32.94 462.20,33.04 463.24,32.89 464.29,30.91 465.33,30.27 466.37,33.25 467.42,30.78 468.46,30.84 469.51,29.65 470.55,31.62 471.60,29.64 472.64,31.83 473.69,30.08 474.73,30.53 475.78,30.56 476.82,29.02 477.86,29.32 478.91,28.81 479.95,29.83 481.00,30.20 482.04,28.31 483.09,28.88 484.13,29.55 485.18,28.12 486.22,27.63 487.26,29.87 488.31,28.67 489.35,27.43 490.40,28.67 491.44,27.02 492.49,27.97 493.53,27.47 494.58,27.52 495.62,28.48 496.67,27.50 497.71,27.95 498.75,27.42 499.80,26.54 500.84,26.47 501.89,27.13 502.93,26.48 503.98,25.85 505.02,26.42 506.07,26.71 507.11,25.90 508.15,26.55 509.20,26.63 510.24,24.96 511.29,26.27 512.33,25.55 513.38,25.07 514.42,25.49 515.47,24.21 516.51,24.06 517.56,24.59 518.60,25.47 519.64,24.15 520.69,25.24 521.73,23.88 522.78,23.58 523.82,23.68 524.87,23.06 525.91,23.43 526.96,23.68" fill="none" stroke="#ff1a1a" stroke-width="1.1" stroke-linejoin="round" stroke-opacity="0.85"/>
</g>
<rect x="309.4" y="15.7" width="228.00" height="189.90" fill="none" stroke="#a8a8a8" stroke-width="1.2"/>
<line x1="307.60" x2="309.40" y1="197.00" y2="197.00" stroke="#777" stroke-width="0.7"/>
<text x="299.10" y="199.60" font-size="7.3" textLength="7.50" lengthAdjust="spacingAndGlyphs" fill="#1a1a1a" stroke="#1a1a1a" stroke-width="0.15" >0.0</text>
<line x1="307.60" x2="309.40" y1="178.45" y2="178.45" stroke="#777" stroke-width="0.7"/>
<text x="299.10" y="181.05" font-size="7.3" textLength="7.50" lengthAdjust="spacingAndGlyphs" fill="#1a1a1a" stroke="#1a1a1a" stroke-width="0.15" >0.1</text>
<line x1="307.60" x2="309.40" y1="159.90" y2="159.90" stroke="#777" stroke-width="0.7"/>
<text x="299.10" y="162.50" font-size="7.3" textLength="7.50" lengthAdjust="spacingAndGlyphs" fill="#1a1a1a" stroke="#1a1a1a" stroke-width="0.15" >0.2</text>
<line x1="307.60" x2="309.40" y1="141.35" y2="141.35" stroke="#777" stroke-width="0.7"/>
<text x="299.10" y="143.95" font-size="7.3" textLength="7.50" lengthAdjust="spacingAndGlyphs" fill="#1a1a1a" stroke="#1a1a1a" stroke-width="0.15" >0.3</text>
<line x1="307.60" x2="309.40" y1="122.80" y2="122.80" stroke="#777" stroke-width="0.7"/>
<text x="299.10" y="125.40" font-size="7.3" textLength="7.50" lengthAdjust="spacingAndGlyphs" fill="#1a1a1a" stroke="#1a1a1a" stroke-width="0.15" >0.4</text>
<line x1="307.60" x2="309.40" y1="104.25" y2="104.25" stroke="#777" stroke-width="0.7"/>
<text x="299.10" y="106.85" font-size="7.3" textLength="7.50" lengthAdjust="spacingAndGlyphs" fill="#1a1a1a" stroke="#1a1a1a" stroke-width="0.15" >0.5</text>
<line x1="307.60" x2="309.40" y1="85.70" y2="85.70" stroke="#777" stroke-width="0.7"/>
<text x="299.10" y="88.30" font-size="7.3" textLength="7.50" lengthAdjust="spacingAndGlyphs" fill="#1a1a1a" stroke="#1a1a1a" stroke-width="0.15" >0.6</text>
<line x1="307.60" x2="309.40" y1="67.15" y2="67.15" stroke="#777" stroke-width="0.7"/>
<text x="299.10" y="69.75" font-size="7.3" textLength="7.50" lengthAdjust="spacingAndGlyphs" fill="#1a1a1a" stroke="#1a1a1a" stroke-width="0.15" >0.7</text>
<line x1="307.60" x2="309.40" y1="48.60" y2="48.60" stroke="#777" stroke-width="0.7"/>
<text x="299.10" y="51.20" font-size="7.3" textLength="7.50" lengthAdjust="spacingAndGlyphs" fill="#1a1a1a" stroke="#1a1a1a" stroke-width="0.15" >0.8</text>
<line x1="307.60" x2="309.40" y1="30.05" y2="30.05" stroke="#777" stroke-width="0.7"/>
<text x="299.10" y="32.65" font-size="7.3" textLength="7.50" lengthAdjust="spacingAndGlyphs" fill="#1a1a1a" stroke="#1a1a1a" stroke-width="0.15" >0.9</text>
<line x1="319.10" x2="319.10" y1="205.60" y2="207.40" stroke="#777" stroke-width="0.7"/>
<text x="317.23" y="213.90" font-size="7.3" textLength="3.75" lengthAdjust="spacingAndGlyphs" fill="#1a1a1a" stroke="#1a1a1a" stroke-width="0.15" >0</text>
<line x1="371.33" x2="371.33" y1="205.60" y2="207.40" stroke="#777" stroke-width="0.7"/>
<text x="368.33" y="213.90" font-size="7.3" textLength="6.00" lengthAdjust="spacingAndGlyphs" fill="#1a1a1a" stroke="#1a1a1a" stroke-width="0.15" >50</text>
<line x1="423.55" x2="423.55" y1="205.60" y2="207.40" stroke="#777" stroke-width="0.7"/>
<text x="419.05" y="213.90" font-size="7.3" textLength="9.00" lengthAdjust="spacingAndGlyphs" fill="#1a1a1a" stroke="#1a1a1a" stroke-width="0.15" >100</text>
<line x1="475.78" x2="475.78" y1="205.60" y2="207.40" stroke="#777" stroke-width="0.7"/>
<text x="471.28" y="213.90" font-size="7.3" textLength="9.00" lengthAdjust="spacingAndGlyphs" fill="#1a1a1a" stroke="#1a1a1a" stroke-width="0.15" >150</text>
<line x1="528.00" x2="528.00" y1="205.60" y2="207.40" stroke="#777" stroke-width="0.7"/>
<text x="523.50" y="213.90" font-size="7.3" textLength="9.00" lengthAdjust="spacingAndGlyphs" fill="#1a1a1a" stroke="#1a1a1a" stroke-width="0.15" >200</text>
<text x="414.35" y="221.40" font-size="7.3" textLength="18.30" lengthAdjust="spacingAndGlyphs" fill="#1a1a1a" stroke="#1a1a1a" stroke-width="0.15" >Epochs</text>
<text transform="translate(295.50,157.65) rotate(-90)" font-family="DejaVu Sans, sans-serif" font-size="5.7" textLength="93.30" lengthAdjust="spacingAndGlyphs" fill="#1a1a1a" stroke="#1a1a1a" stroke-width="0.1">Detection train mAP_0.5:0.95</text>
<text x="366.20" y="13.20" font-size="8.3" textLength="114.60" lengthAdjust="spacingAndGlyphs" fill="#1a1a1a" stroke="#1a1a1a" stroke-width="0.15" >Epochs &amp; Detection train mAP_0.5:0.95</text>
<rect x="467.50" y="148.50" width="67.20" height="53.50" rx="1.2" fill="#fff" fill-opacity="0.85" stroke="#d4d4d4" stroke-width="0.8"/>
<line x1="469.30" x2="480.50" y1="154.10" y2="154.10" stroke="#000" stroke-width="1.5" stroke-opacity="0.62"/>
<text x="485.00" y="156.55" font-size="7.1" textLength="10.00" lengthAdjust="spacingAndGlyphs" fill="#1a1a1a" stroke="#1a1a1a" stroke-width="0.15" >SSD</text>
<line x1="469.30" x2="480.50" y1="164.43" y2="164.43" stroke="#259425" stroke-width="1.0"/>
<text x="485.00" y="166.88" font-size="7.1" textLength="34.95" lengthAdjust="spacingAndGlyphs" fill="#1a1a1a" stroke="#1a1a1a" stroke-width="0.15" >Faster R-CNN</text>
<line x1="469.30" x2="480.50" y1="174.76" y2="174.76" stroke="#ffbfcb" stroke-width="1.0"/>
<text x="485.00" y="177.21" font-size="7.1" textLength="25.96" lengthAdjust="spacingAndGlyphs" fill="#1a1a1a" stroke="#1a1a1a" stroke-width="0.15" >RetinaNet</text>
<line x1="469.30" x2="480.50" y1="185.09" y2="185.09" stroke="#1a1aff" stroke-width="1.2" stroke-opacity="0.75"/>
<text x="485.00" y="187.54" font-size="7.1" textLength="23.13" lengthAdjust="spacingAndGlyphs" fill="#1a1a1a" stroke="#1a1a1a" stroke-width="0.15" >YOLOv5s</text>
<line x1="469.30" x2="480.50" y1="195.42" y2="195.42" stroke="#ff1a1a" stroke-width="1.6" stroke-opacity="0.6"/>
<text x="485.00" y="197.87" font-size="7.1" textLength="47.27" lengthAdjust="spacingAndGlyphs" fill="#1a1a1a" stroke="#1a1a1a" stroke-width="0.15" >YOLOv5s_Res2Net</text>
<text x="414.80" y="242.90" font-family="Liberation Serif, serif" font-size="14.5" text-anchor="middle" fill="#111">(<tspan font-weight="bold">b</tspan>)</text>
<clipPath id="cpc"><rect x="34.5" y="260.6" width="231.60000000000002" height="190.79999999999995"/></clipPath>
<g clip-path="url(#cpc)">
<polyline points="45.56,355.41 46.62,341.78 47.68,337.65 48.74,334.91 49.80,330.26 50.86,328.16 51.92,328.43 52.98,324.12 54.04,324.00 55.10,319.77 56.16,319.91 57.22,319.18 58.28,316.43 59.34,315.85 60.40,314.35 61.46,313.59 62.52,312.97 63.58,306.72 64.64,305.73 65.70,305.24 66.76,303.21 67.82,304.91 68.88,303.64 69.94,302.07 71.00,303.13 72.06,300.38 73.12,300.52 74.18,300.69 75.24,299.57 76.30,300.14 77.36,300.52 78.42,298.31 79.48,297.91 80.54,298.24 81.60,298.01 82.66,299.37 83.72,298.00 84.78,297.37 85.84,296.50 86.90,295.28 87.96,296.51 89.02,296.42 90.08,294.72 91.14,295.29 92.20,295.98 93.26,293.61 94.32,295.01 95.38,294.50 96.44,294.61 97.50,293.23 98.56,292.38 99.62,293.28 100.68,292.39 101.74,292.82 102.80,290.30 103.86,290.69 104.92,292.10 105.98,290.92 107.04,290.32 108.10,290.45 109.16,291.13 110.22,290.38 111.28,289.39 112.34,289.43 113.40,290.30 114.46,289.07 115.52,290.07 116.58,290.79 117.64,288.76 118.70,287.96 119.76,288.19 120.82,287.18 121.88,286.79 122.94,287.74 124.00,288.36 125.06,287.71 126.12,288.67 127.18,287.36 128.24,287.23 129.30,286.76 130.36,285.76 131.42,288.09 132.48,285.52 133.54,286.30 134.60,284.97 135.66,285.21 136.72,285.90 137.78,284.08 138.84,285.09 139.90,283.79 140.96,284.39 142.02,284.02 143.08,283.26 144.14,281.76 145.20,282.67 146.26,283.18 147.32,281.77 148.38,283.03 149.44,283.23 150.50,283.71 151.56,282.74 152.62,282.72 153.68,283.30 154.74,284.23 155.80,282.10 156.86,282.66 157.92,282.51 158.98,282.02 160.04,281.73 161.10,282.78 162.16,282.24 163.22,281.94 164.28,282.39 165.34,282.47 166.40,282.03 167.46,282.46 168.52,282.50 169.58,282.46 170.64,282.65 171.70,282.89 172.76,282.04 173.82,281.91 174.88,282.26 175.94,282.36 177.00,282.19 178.06,282.35 179.12,282.72 180.18,282.59 181.24,282.19 182.30,282.39 183.36,282.67 184.42,282.64 185.48,282.06 186.54,282.65 187.60,282.01 188.66,282.16 189.72,282.52 190.78,282.35 191.84,282.24 192.90,282.19 193.96,282.21 195.02,281.92 196.08,282.04 197.14,282.39 198.20,282.30 199.26,282.48 200.32,282.38 201.38,282.24 202.44,282.82 203.50,282.23 204.56,282.26 205.62,282.31 206.68,282.56 207.74,282.38 208.80,282.42 209.86,282.25 210.92,282.82 211.98,282.31 213.04,282.12 214.10,282.44 215.16,282.45 216.22,282.05 217.28,281.58 218.34,282.07 219.40,282.06 220.46,282.20 221.52,282.03 222.58,282.07 223.64,282.43 224.70,282.12 225.76,281.98 226.82,282.37 227.88,282.11 228.94,281.89 230.00,281.96 231.06,282.20 232.12,281.69 233.18,281.94 234.24,282.25 235.30,282.66 236.36,282.26 237.42,282.15 238.48,282.27 239.54,282.17 240.60,281.78 241.66,281.97 242.72,281.84 243.78,282.50 244.84,282.16 245.90,281.84 246.96,282.36 248.02,281.69 249.08,282.46 250.14,282.31 251.20,281.79 252.26,282.67 253.32,281.95 254.38,282.45 255.44,282.42" fill="none" stroke="#ffbfcb" stroke-width="1.0" stroke-linejoin="round"/>
<polyline points="45.56,355.53 46.62,342.96 47.68,340.03 48.74,337.20 49.80,334.25 50.86,333.32 51.92,331.99 52.98,330.37 54.04,328.98 55.10,328.67 56.16,327.49 57.22,326.07 58.28,325.05 59.34,324.71 60.40,323.37 61.46,321.89 62.52,320.18 63.58,319.99 64.64,318.55 65.70,317.12 66.76,316.00 67.82,315.08 68.88,313.98 69.94,313.87 71.00,314.26 72.06,314.25 73.12,312.66 74.18,311.39 75.24,310.14 76.30,309.64 77.36,309.37 78.42,308.68 79.48,309.16 80.54,308.58 81.60,308.58 82.66,306.63 83.72,304.70 84.78,303.75 85.84,303.88 86.90,304.11 87.96,303.45 89.02,303.59 90.08,303.99 91.14,304.70 92.20,303.81 93.26,301.41 94.32,300.00 95.38,300.40 96.44,300.38 97.50,299.79 98.56,299.49 99.62,299.94 100.68,299.81 101.74,299.77 102.80,300.24 103.86,299.90 104.92,299.31 105.98,298.06 107.04,298.02 108.10,298.78 109.16,299.32 110.22,297.96 111.28,296.84 112.34,297.31 113.40,298.45 114.46,298.62 115.52,298.19 116.58,297.92 117.64,296.82 118.70,296.28 119.76,295.83 120.82,295.64 121.88,294.59 122.94,294.60 124.00,295.19 125.06,295.32 126.12,295.15 127.18,296.05 128.24,296.19 129.30,295.19 130.36,294.03 131.42,294.56 132.48,295.01 133.54,295.13 134.60,294.72 135.66,293.85 136.72,292.59 137.78,292.01 138.84,292.30 139.90,292.53 140.96,292.66 142.02,292.88 143.08,293.31 144.14,293.27 145.20,292.06 146.26,290.94 147.32,291.11 148.38,292.29 149.44,292.89 150.50,292.50 151.56,291.86 152.62,292.01 153.68,292.12 154.74,292.15 155.80,290.99 156.86,290.75 157.92,289.86 158.98,290.33 160.04,290.73 161.10,291.20 162.16,290.38 163.22,289.81 164.28,290.43 165.34,290.95 166.40,290.88 167.46,290.46 168.52,290.77 169.58,289.98 170.64,289.52 171.70,289.81 172.76,290.24 173.82,289.71 174.88,289.36 175.94,289.23 177.00,288.86 178.06,288.63 179.12,288.48 180.18,288.39 181.24,288.81 182.30,289.41 183.36,289.62 184.42,289.20 185.48,289.31 186.54,289.95 187.60,290.02 188.66,289.77 189.72,289.93 190.78,289.81 191.84,289.13 192.90,288.16 193.96,288.28 195.02,288.50 196.08,289.23 197.14,289.15 198.20,288.67 199.26,288.44 200.32,288.40 201.38,288.83 202.44,288.64 203.50,289.04 204.56,288.70 205.62,288.17 206.68,286.81 207.74,285.93 208.80,286.77 209.86,287.35 210.92,287.22 211.98,286.07 213.04,286.79 214.10,287.38 215.16,286.80 216.22,286.81 217.28,287.24 218.34,287.25 219.40,286.83 220.46,287.04 221.52,287.78 222.58,288.06 223.64,288.61 224.70,288.08 225.76,287.63 226.82,286.93 227.88,287.26 228.94,287.54 230.00,287.42 231.06,286.64 232.12,287.20 233.18,287.59 234.24,287.75 235.30,287.19 236.36,287.22 237.42,286.51 238.48,286.50 239.54,287.56 240.60,288.89 241.66,288.52 242.72,287.51 243.78,286.56 244.84,286.51 245.90,286.80 246.96,286.93 248.02,287.09 249.08,287.86 250.14,287.58 251.20,287.43 252.26,286.81 253.32,286.89 254.38,285.94 255.44,286.28" fill="none" stroke="#222" stroke-width="1.0" stroke-linejoin="round"/>
<polyline points="44.50,348.95 45.56,321.62 46.62,311.31 47.68,305.15 48.74,301.36 49.80,296.21 50.86,294.37 51.92,292.25 52.98,291.58 54.04,290.54 55.10,290.05 56.16,288.30 57.22,288.03 58.28,287.32 59.34,286.65 60.40,285.34 61.46,283.54 62.52,283.20 63.58,282.56 64.64,282.59 65.70,282.21 66.76,282.68 67.82,282.58 68.88,282.43 69.94,282.93 71.00,282.64 72.06,282.40 73.12,282.24 74.18,282.48 75.24,282.68 76.30,282.17 77.36,282.57 78.42,282.50 79.48,282.47 80.54,282.52 81.60,282.64 82.66,282.39 83.72,282.78 84.78,282.62 85.84,282.59 86.90,282.72 87.96,282.47 89.02,282.45 90.08,282.47 91.14,282.52 92.20,282.35 93.26,282.07 94.32,282.24 95.38,283.23 96.44,282.20 97.50,282.92 98.56,282.90 99.62,282.44 100.68,282.79 101.74,282.09 102.80,282.29 103.86,282.65 104.92,282.85 105.98,282.37 107.04,282.16 108.10,282.43 109.16,282.00 110.22,282.32 111.28,282.25 112.34,282.51 113.40,282.35 114.46,282.49 115.52,282.89 116.58,281.84 117.64,282.47 118.70,282.40 119.76,282.10 120.82,282.40 121.88,282.37 122.94,282.32 124.00,282.69 125.06,282.05 126.12,282.33 127.18,282.56 128.24,282.18 129.30,282.32 130.36,282.63 131.42,282.36 132.48,282.40 133.54,282.32 134.60,282.30 135.66,282.22 136.72,282.68 137.78,282.39 138.84,282.61 139.90,282.26 140.96,282.70 142.02,282.91 143.08,282.48 144.14,281.76 145.20,282.10 146.26,282.35 147.32,281.77 148.38,282.41 149.44,282.41 150.50,282.16 151.56,282.28 152.62,282.37 153.68,282.47 154.74,282.37 155.80,282.10 156.86,282.66 157.92,282.51 158.98,282.02 160.04,281.73 161.10,282.78 162.16,282.24 163.22,281.94 164.28,282.39 165.34,282.47 166.40,282.03 167.46,282.46 168.52,282.50 169.58,282.46 170.64,282.65 171.70,282.89 172.76,282.04 173.82,281.91 174.88,282.26 175.94,282.36 177.00,282.19 178.06,282.35 179.12,282.72 180.18,282.59 181.24,282.19 182.30,282.39 183.36,282.67 184.42,282.64 185.48,282.06 186.54,282.65 187.60,282.01 188.66,282.16 189.72,282.52 190.78,282.35 191.84,282.24 192.90,282.19 193.96,282.21 195.02,281.92 196.08,282.04 197.14,282.39 198.20,282.30 199.26,282.48 200.32,282.38 201.38,282.24 202.44,282.82 203.50,282.23 204.56,282.26 205.62,282.31 206.68,282.56 207.74,282.38 208.80,282.42 209.86,282.25 210.92,282.82 211.98,282.31 213.04,282.12 214.10,282.44 215.16,282.45 216.22,282.05 217.28,281.58 218.34,282.07 219.40,282.06 220.46,282.20 221.52,282.03 222.58,282.07 223.64,282.43 224.70,282.12 225.76,281.98 226.82,282.37 227.88,282.11 228.94,281.89 230.00,281.96 231.06,282.20 232.12,281.69 233.18,281.94 234.24,282.25 235.30,282.66 236.36,282.26 237.42,282.15 238.48,282.27 239.54,282.17 240.60,281.78 241.66,281.97 242.72,281.84 243.78,282.50 244.84,282.16 245.90,281.84 246.96,282.36 248.02,281.69 249.08,282.46 250.14,282.31 251.20,281.79 252.26,282.67 253.32,281.95 254.38,282.45 255.44,282.42" fill="none" stroke="#259425" stroke-width="1.0" stroke-linejoin="round"/>
<polyline points="44.50,442.30 45.56,442.30 46.62,442.19 47.68,442.30 48.74,442.17 49.80,442.27 50.86,442.24 51.92,441.61 52.98,442.20 54.04,441.94 55.10,441.79 56.16,441.65 57.22,441.72 58.28,441.39 59.34,440.76 60.40,441.46 61.46,442.14 62.52,440.63 63.58,440.09 64.64,439.43 65.70,438.65 66.76,434.52 67.82,431.46 68.88,418.48 69.94,396.15 71.00,398.32 72.06,376.68 73.12,358.91 74.18,364.55 75.24,371.05 76.30,345.62 77.36,344.50 78.42,332.92 79.48,343.45 80.54,338.97 81.60,341.21 82.66,333.58 83.72,351.99 84.78,336.94 85.84,340.29 86.90,327.36 87.96,360.01 89.02,329.25 90.08,314.61 91.14,325.66 92.20,329.90 93.26,324.90 94.32,316.99 95.38,315.08 96.44,321.13 97.50,370.05 98.56,316.93 99.62,322.92 100.68,324.33 101.74,326.60 102.80,306.76 103.86,309.01 104.92,307.85 105.98,310.27 107.04,316.25 108.10,299.29 109.16,317.18 110.22,310.40 111.28,303.01 112.34,308.56 113.40,306.85 114.46,307.63 115.52,314.47 116.58,305.16 117.64,301.29 118.70,322.28 119.76,304.74 120.82,305.72 121.88,310.35 122.94,294.95 124.00,306.58 125.06,299.70 126.12,298.99 127.18,292.36 128.24,304.17 129.30,294.46 130.36,304.86 131.42,296.86 132.48,293.30 133.54,295.52 134.60,295.07 135.66,297.28 136.72,293.09 137.78,296.59 138.84,292.94 139.90,295.76 140.96,296.46 142.02,306.83 143.08,295.64 144.14,295.15 145.20,295.68 146.26,296.37 147.32,297.43 148.38,295.14 149.44,293.37 150.50,289.85 151.56,295.69 152.62,292.11 153.68,294.97 154.74,291.43 155.80,292.77 156.86,288.72 157.92,292.83 158.98,288.85 160.04,290.44 161.10,290.07 162.16,289.30 163.22,290.28 164.28,288.21 165.34,289.40 166.40,287.60 167.46,287.15 168.52,289.47 169.58,287.27 170.64,286.66 171.70,286.41 172.76,285.37 173.82,284.68 174.88,285.27 175.94,283.95 177.00,284.44 178.06,284.47 179.12,283.44 180.18,284.19 181.24,283.24 182.30,283.96 183.36,284.06 184.42,283.87 185.48,283.33 186.54,284.36 187.60,282.61 188.66,282.90 189.72,283.12 190.78,283.45 191.84,282.54 192.90,282.06 193.96,281.78 195.02,282.06 196.08,281.71 197.14,281.32 198.20,282.13 199.26,281.47 200.32,282.57 201.38,282.35 202.44,281.12 203.50,281.02 204.56,281.47 205.62,281.04 206.68,280.24 207.74,281.58 208.80,280.76 209.86,281.75 210.92,281.19 211.98,280.35 213.04,280.67 214.10,280.98 215.16,279.63 216.22,280.88 217.28,280.96 218.34,280.16 219.40,280.57 220.46,279.51 221.52,279.92 222.58,279.56 223.64,279.44 224.70,278.93 225.76,279.39 226.82,279.39 227.88,279.44 228.94,279.06 230.00,278.74 231.06,278.58 232.12,279.25 233.18,278.42 234.24,278.80 235.30,278.56 236.36,277.63 237.42,278.39 238.48,277.50 239.54,278.18 240.60,277.53 241.66,278.00 242.72,277.91 243.78,277.27 244.84,277.76 245.90,278.08 246.96,278.21 248.02,278.22 249.08,277.42 250.14,277.56 251.20,278.15 252.26,277.86 253.32,277.40 254.38,277.86 255.44,278.07" fill="none" stroke="#1a1aff" stroke-width="0.85" stroke-linejoin="round"/>
<polyline points="44.50,442.30 45.56,442.07 46.62,442.06 47.68,442.12 48.74,441.88 49.80,441.88 50.86,441.57 51.92,441.46 52.98,441.87 54.04,441.96 55.10,441.88 56.16,440.64 57.22,439.98 58.28,439.72 59.34,440.59 60.40,440.95 61.46,440.93 62.52,440.33 63.58,439.36 64.64,437.97 65.70,440.13 66.76,442.30 67.82,441.09 68.88,440.52 69.94,435.71 71.00,431.55 72.06,436.57 73.12,428.73 74.18,417.63 75.24,401.88 76.30,382.70 77.36,372.79 78.42,361.11 79.48,362.25 80.54,352.93 81.60,356.03 82.66,339.91 83.72,338.26 84.78,327.96 85.84,337.77 86.90,319.84 87.96,333.42 89.02,329.55 90.08,322.54 91.14,332.10 92.20,330.43 93.26,329.14 94.32,335.93 95.38,317.10 96.44,319.60 97.50,319.83 98.56,320.71 99.62,312.24 100.68,317.92 101.74,323.69 102.80,316.49 103.86,304.56 104.92,299.54 105.98,310.60 107.04,313.52 108.10,321.88 109.16,313.52 110.22,314.62 111.28,311.67 112.34,301.03 113.40,317.64 114.46,294.70 115.52,307.82 116.58,295.04 117.64,299.82 118.70,303.05 119.76,300.62 120.82,301.67 121.88,299.00 122.94,300.49 124.00,300.04 125.06,285.28 126.12,289.08 127.18,283.67 128.24,293.06 129.30,291.86 130.36,287.74 131.42,291.09 132.48,290.67 133.54,280.78 134.60,286.64 135.66,290.46 136.72,293.09 137.78,287.63 138.84,291.07 139.90,283.82 140.96,282.62 142.02,283.39 143.08,287.61 144.14,290.02 145.20,289.30 146.26,279.00 147.32,286.37 148.38,288.03 149.44,284.68 150.50,288.33 151.56,285.54 152.62,286.06 153.68,282.02 154.74,284.63 155.80,281.31 156.86,278.91 157.92,283.49 158.98,281.91 160.04,286.87 161.10,275.92 162.16,282.85 163.22,278.61 164.28,282.08 165.34,280.70 166.40,280.81 167.46,282.77 168.52,277.42 169.58,280.48 170.64,280.94 171.70,278.70 172.76,280.79 173.82,275.58 174.88,283.54 175.94,277.17 177.00,275.03 178.06,278.26 179.12,279.66 180.18,274.99 181.24,278.63 182.30,279.31 183.36,274.45 184.42,274.56 185.48,277.96 186.54,274.59 187.60,276.36 188.66,277.55 189.72,279.12 190.78,275.22 191.84,274.37 192.90,276.72 193.96,276.62 195.02,275.33 196.08,275.77 197.14,274.02 198.20,272.92 199.26,275.25 200.32,274.30 201.38,273.15 202.44,274.62 203.50,273.19 204.56,274.19 205.62,273.21 206.68,274.43 207.74,274.34 208.80,272.82 209.86,272.52 210.92,273.54 211.98,272.88 213.04,274.66 214.10,273.35 215.16,273.51 216.22,271.71 217.28,273.06 218.34,272.20 219.40,271.72 220.46,272.31 221.52,272.38 222.58,272.18 223.64,271.69 224.70,271.68 225.76,272.16 226.82,272.17 227.88,272.13 228.94,271.62 230.00,271.71 231.06,272.11 232.12,270.93 233.18,270.88 234.24,271.02 235.30,270.21 236.36,270.26 237.42,270.20 238.48,270.43 239.54,270.21 240.60,270.15 241.66,269.43 242.72,270.31 243.78,269.85 244.84,270.01 245.90,269.76 246.96,269.33 248.02,269.60 249.08,269.62 250.14,269.96 251.20,269.82 252.26,269.38 253.32,269.35 254.38,269.01 255.44,269.81" fill="none" stroke="#ff1a1a" stroke-width="0.85" stroke-linejoin="round"/>
</g>
<rect x="34.5" y="260.6" width="231.60" height="190.80" fill="none" stroke="#a8a8a8" stroke-width="1.2"/>
<line x1="32.70" x2="34.50" y1="442.30" y2="442.30" stroke="#777" stroke-width="0.7"/>
<text x="24.20" y="444.90" font-size="7.3" textLength="7.50" lengthAdjust="spacingAndGlyphs" fill="#1a1a1a" stroke="#1a1a1a" stroke-width="0.15" >0.0</text>
<line x1="32.70" x2="34.50" y1="422.23" y2="422.23" stroke="#777" stroke-width="0.7"/>
<text x="24.20" y="424.83" font-size="7.3" textLength="7.50" lengthAdjust="spacingAndGlyphs" fill="#1a1a1a" stroke="#1a1a1a" stroke-width="0.15" >0.1</text>
<line x1="32.70" x2="34.50" y1="402.16" y2="402.16" stroke="#777" stroke-width="0.7"/>
<text x="24.20" y="404.76" font-size="7.3" textLength="7.50" lengthAdjust="spacingAndGlyphs" fill="#1a1a1a" stroke="#1a1a1a" stroke-width="0.15" >0.2</text>
<line x1="32.70" x2="34.50" y1="382.09" y2="382.09" stroke="#777" stroke-width="0.7"/>
<text x="24.20" y="384.69" font-size="7.3" textLength="7.50" lengthAdjust="spacingAndGlyphs" fill="#1a1a1a" stroke="#1a1a1a" stroke-width="0.15" >0.3</text>
<line x1="32.70" x2="34.50" y1="362.02" y2="362.02" stroke="#777" stroke-width="0.7"/>
<text x="24.20" y="364.62" font-size="7.3" textLength="7.50" lengthAdjust="spacingAndGlyphs" fill="#1a1a1a" stroke="#1a1a1a" stroke-width="0.15" >0.4</text>
<line x1="32.70" x2="34.50" y1="341.95" y2="341.95" stroke="#777" stroke-width="0.7"/>
<text x="24.20" y="344.55" font-size="7.3" textLength="7.50" lengthAdjust="spacingAndGlyphs" fill="#1a1a1a" stroke="#1a1a1a" stroke-width="0.15" >0.5</text>
<line x1="32.70" x2="34.50" y1="321.88" y2="321.88" stroke="#777" stroke-width="0.7"/>
<text x="24.20" y="324.48" font-size="7.3" textLength="7.50" lengthAdjust="spacingAndGlyphs" fill="#1a1a1a" stroke="#1a1a1a" stroke-width="0.15" >0.6</text>
<line x1="32.70" x2="34.50" y1="301.81" y2="301.81" stroke="#777" stroke-width="0.7"/>
<text x="24.20" y="304.41" font-size="7.3" textLength="7.50" lengthAdjust="spacingAndGlyphs" fill="#1a1a1a" stroke="#1a1a1a" stroke-width="0.15" >0.7</text>
<line x1="32.70" x2="34.50" y1="281.74" y2="281.74" stroke="#777" stroke-width="0.7"/>
<text x="24.20" y="284.34" font-size="7.3" textLength="7.50" lengthAdjust="spacingAndGlyphs" fill="#1a1a1a" stroke="#1a1a1a" stroke-width="0.15" >0.8</text>
<line x1="32.70" x2="34.50" y1="261.67" y2="261.67" stroke="#777" stroke-width="0.7"/>
<text x="24.20" y="264.27" font-size="7.3" textLength="7.50" lengthAdjust="spacingAndGlyphs" fill="#1a1a1a" stroke="#1a1a1a" stroke-width="0.15" >0.9</text>
<line x1="44.50" x2="44.50" y1="451.40" y2="453.20" stroke="#777" stroke-width="0.7"/>
<text x="42.62" y="459.30" font-size="7.3" textLength="3.75" lengthAdjust="spacingAndGlyphs" fill="#1a1a1a" stroke="#1a1a1a" stroke-width="0.15" >0</text>
<line x1="97.50" x2="97.50" y1="451.40" y2="453.20" stroke="#777" stroke-width="0.7"/>
<text x="94.50" y="459.30" font-size="7.3" textLength="6.00" lengthAdjust="spacingAndGlyphs" fill="#1a1a1a" stroke="#1a1a1a" stroke-width="0.15" >50</text>
<line x1="150.50" x2="150.50" y1="451.40" y2="453.20" stroke="#777" stroke-width="0.7"/>
<text x="146.00" y="459.30" font-size="7.3" textLength="9.00" lengthAdjust="spacingAndGlyphs" fill="#1a1a1a" stroke="#1a1a1a" stroke-width="0.15" >100</text>
<line x1="203.50" x2="203.50" y1="451.40" y2="453.20" stroke="#777" stroke-width="0.7"/>
<text x="199.00" y="459.30" font-size="7.3" textLength="9.00" lengthAdjust="spacingAndGlyphs" fill="#1a1a1a" stroke="#1a1a1a" stroke-width="0.15" >150</text>
<line x1="256.50" x2="256.50" y1="451.40" y2="453.20" stroke="#777" stroke-width="0.7"/>
<text x="252.00" y="459.30" font-size="7.3" textLength="9.00" lengthAdjust="spacingAndGlyphs" fill="#1a1a1a" stroke="#1a1a1a" stroke-width="0.15" >200</text>
<text x="141.05" y="468.00" font-size="7.3" textLength="18.30" lengthAdjust="spacingAndGlyphs" fill="#1a1a1a" stroke="#1a1a1a" stroke-width="0.15" >Epochs</text>
<text transform="translate(21.40,410.25) rotate(-90)" font-family="DejaVu Sans, sans-serif" font-size="5.8" textLength="109.50" lengthAdjust="spacingAndGlyphs" fill="#1a1a1a" stroke="#1a1a1a" stroke-width="0.1">Segmentation train mAP_0.5:0.95</text>
<text x="85.60" y="258.00" font-size="8.3" textLength="128.60" lengthAdjust="spacingAndGlyphs" fill="#1a1a1a" stroke="#1a1a1a" stroke-width="0.15" >Epochs &amp; Segmentation train mAP_0.5:0.95</text>
<rect x="195.00" y="394.20" width="68.50" height="53.70" rx="1.2" fill="#fff" fill-opacity="0.85" stroke="#d4d4d4" stroke-width="0.8"/>
<line x1="196.80" x2="208.30" y1="400.40" y2="400.40" stroke="#ffbfcb" stroke-width="1.1"/>
<text x="212.90" y="402.85" font-size="7.1" textLength="10.71" lengthAdjust="spacingAndGlyphs" fill="#1a1a1a" stroke="#1a1a1a" stroke-width="0.15" >FCN</text>
<line x1="196.80" x2="208.30" y1="410.65" y2="410.65" stroke="#000" stroke-width="1.4" stroke-opacity="0.65"/>
<text x="212.90" y="413.10" font-size="7.1" textLength="28.56" lengthAdjust="spacingAndGlyphs" fill="#1a1a1a" stroke="#1a1a1a" stroke-width="0.15" >DeepLabv3</text>
<line x1="196.80" x2="208.30" y1="420.90" y2="420.90" stroke="#259425" stroke-width="1.0"/>
<text x="212.90" y="423.35" font-size="7.1" textLength="31.52" lengthAdjust="spacingAndGlyphs" fill="#1a1a1a" stroke="#1a1a1a" stroke-width="0.15" >Mask-RCNN</text>
<line x1="196.80" x2="208.30" y1="431.15" y2="431.15" stroke="#1a1aff" stroke-width="1.0"/>
<text x="212.90" y="433.60" font-size="7.1" textLength="23.36" lengthAdjust="spacingAndGlyphs" fill="#1a1a1a" stroke="#1a1a1a" stroke-width="0.15" >YOLOv5s</text>
<line x1="196.80" x2="208.30" y1="441.40" y2="441.40" stroke="#ff1a1a" stroke-width="1.0"/>
<text x="212.90" y="443.85" font-size="7.1" textLength="47.74" lengthAdjust="spacingAndGlyphs" fill="#1a1a1a" stroke="#1a1a1a" stroke-width="0.15" >YOLOv5s_Res2Net</text>
<text x="141.50" y="488.00" font-family="Liberation Serif, serif" font-size="14.5" text-anchor="middle" fill="#111">(<tspan font-weight="bold">c</tspan>)</text>
<clipPath id="cpd"><rect x="308.3" y="259.7" width="228.99999999999994" height="189.2"/></clipPath>
<g clip-path="url(#cpd)">
<polyline points="319.55,320.96 320.59,315.64 321.64,311.13 322.68,308.44 323.73,305.60 324.77,303.62 325.82,300.45 326.86,297.72 327.91,296.09 328.95,293.48 330.00,290.97 331.05,290.79 332.09,289.53 333.14,287.87 334.18,287.66 335.23,286.21 336.27,286.81 337.32,285.56 338.36,283.91 339.41,283.46 340.46,283.25 341.50,282.16 342.55,281.89 343.59,281.23 344.64,281.35 345.68,280.64 346.73,280.18 347.77,280.27 348.82,280.81 349.87,279.36 350.91,277.59 351.96,280.28 353.00,278.97 354.05,278.28 355.09,277.70 356.14,276.91 357.18,276.67 358.23,276.35 359.27,276.13 360.32,277.14 361.37,276.62 362.41,276.71 363.46,275.99 364.50,276.29 365.55,276.44 366.59,274.62 367.64,275.67 368.68,275.80 369.73,274.81 370.77,275.84 371.82,275.28 372.87,275.25 373.91,275.84 374.96,276.09 376.00,274.43 377.05,274.63 378.09,274.49 379.14,273.51 380.18,274.33 381.23,272.68 382.28,274.50 383.32,274.98 384.37,273.35 385.41,272.89 386.46,272.06 387.50,273.21 388.55,273.05 389.59,272.83 390.64,271.23 391.69,273.59 392.73,272.24 393.78,272.36 394.82,272.81 395.87,272.37 396.91,271.99 397.96,272.45 399.00,271.86 400.05,271.38 401.09,271.23 402.14,271.84 403.19,271.64 404.23,271.41 405.28,270.89 406.32,271.24 407.37,270.58 408.41,270.94 409.46,272.10 410.50,270.54 411.55,271.47 412.60,270.73 413.64,271.00 414.69,270.41 415.73,270.87 416.78,270.76 417.82,271.76 418.87,269.96 419.91,270.69 420.96,270.88 422.00,269.86 423.05,270.23 424.10,270.37 425.14,270.18 426.19,270.38 427.23,270.98 428.28,271.05 429.32,269.76 430.37,269.66 431.41,269.94 432.46,270.05 433.50,269.64 434.55,269.52 435.60,269.92 436.64,269.56 437.69,269.61 438.73,270.41 439.78,269.61 440.82,270.65 441.87,271.35 442.91,269.62 443.96,270.23 445.01,268.85 446.05,270.67 447.10,269.38 448.14,270.05 449.19,269.73 450.23,270.50 451.28,268.45 452.32,269.98 453.37,268.62 454.42,269.82 455.46,270.46 456.51,270.20 457.55,268.95 458.60,270.03 459.64,269.62 460.69,268.84 461.73,269.00 462.78,270.20 463.82,269.75 464.87,268.66 465.92,269.86 466.96,268.96 468.01,269.38 469.05,270.20 470.10,269.28 471.14,269.78 472.19,269.34 473.23,269.85 474.28,269.00 475.33,269.38 476.37,268.80 477.42,269.94 478.46,269.39 479.51,268.65 480.55,268.53 481.60,268.64 482.64,268.71 483.69,269.61 484.73,268.91 485.78,268.78 486.83,268.98 487.87,268.70 488.92,269.34 489.96,268.61 491.01,269.20 492.05,269.52 493.10,269.87 494.14,268.35 495.19,269.67 496.24,269.55 497.28,269.84 498.33,267.73 499.37,267.80 500.42,269.34 501.46,269.91 502.51,269.28 503.55,269.19 504.60,269.08 505.64,268.56 506.69,269.36 507.74,268.81 508.78,268.49 509.83,268.49 510.87,268.48 511.92,269.00 512.96,268.75 514.01,268.21 515.05,269.37 516.10,268.03 517.14,268.82 518.19,268.00 519.24,269.57 520.28,268.25 521.33,268.81 522.37,267.84 523.42,268.51 524.46,269.02 525.51,267.92 526.55,268.87" fill="none" stroke="#ffbfcb" stroke-width="1.1" stroke-linejoin="round"/>
<polyline points="318.50,359.09 319.55,334.12 320.59,323.17 321.64,317.89 322.68,314.81 323.73,312.30 324.77,309.11 325.82,307.22 326.86,305.32 327.91,303.63 328.95,301.71 330.00,299.75 331.05,299.17 332.09,297.38 333.14,296.41 334.18,295.13 335.23,294.74 336.27,293.52 337.32,292.28 338.36,292.17 339.41,291.58 340.46,290.84 341.50,289.58 342.55,288.29 343.59,287.97 344.64,287.27 345.68,287.19 346.73,286.27 347.77,286.21 348.82,285.42 349.87,285.28 350.91,284.98 351.96,284.39 353.00,284.18 354.05,283.28 355.09,283.22 356.14,282.77 357.18,282.60 358.23,281.88 359.27,282.20 360.32,281.53 361.37,281.57 362.41,281.48 363.46,281.09 364.50,280.93 365.55,280.50 366.59,280.28 367.64,279.93 368.68,279.70 369.73,279.74 370.77,279.55 371.82,279.30 372.87,279.38 373.91,278.86 374.96,278.66 376.00,278.69 377.05,277.89 378.09,278.16 379.14,278.30 380.18,278.21 381.23,278.02 382.28,277.93 383.32,277.30 384.37,277.67 385.41,277.37 386.46,277.37 387.50,276.78 388.55,277.37 389.59,276.93 390.64,276.73 391.69,276.48 392.73,276.31 393.78,276.37 394.82,275.89 395.87,275.96 396.91,275.21 397.96,276.23 399.00,275.49 400.05,275.84 401.09,275.64 402.14,274.70 403.19,274.64 404.23,275.62 405.28,275.09 406.32,274.98 407.37,275.51 408.41,274.84 409.46,274.65 410.50,274.64 411.55,275.21 412.60,274.25 413.64,274.43 414.69,274.46 415.73,274.59 416.78,274.10 417.82,273.98 418.87,274.32 419.91,274.09 420.96,273.81 422.00,274.56 423.05,273.89 424.10,274.41 425.14,274.06 426.19,273.60 427.23,273.71 428.28,273.72 429.32,273.66 430.37,273.30 431.41,273.32 432.46,273.73 433.50,273.39 434.55,273.58 435.60,272.72 436.64,273.61 437.69,273.46 438.73,273.45 439.78,273.45 440.82,273.25 441.87,273.19 442.91,273.71 443.96,273.38 445.01,273.57 446.05,272.81 447.10,272.42 448.14,272.71 449.19,272.99 450.23,272.76 451.28,272.99 452.32,272.53 453.37,272.79 454.42,273.02 455.46,273.26 456.51,273.09 457.55,272.79 458.60,273.21 459.64,272.89 460.69,272.41 461.73,272.77 462.78,272.18 463.82,272.31 464.87,272.78 465.92,273.07 466.96,272.66 468.01,272.76 469.05,272.49 470.10,272.10 471.14,272.87 472.19,272.63 473.23,272.40 474.28,272.14 475.33,272.29 476.37,272.29 477.42,272.00 478.46,272.22 479.51,272.40 480.55,272.29 481.60,272.48 482.64,272.09 483.69,271.95 484.73,273.06 485.78,271.81 486.83,272.15 487.87,271.98 488.92,271.89 489.96,272.72 491.01,272.37 492.05,272.10 493.10,272.20 494.14,271.87 495.19,272.07 496.24,272.39 497.28,271.68 498.33,271.52 499.37,271.64 500.42,271.99 501.46,271.83 502.51,271.56 503.55,271.52 504.60,271.38 505.64,271.73 506.69,272.03 507.74,271.78 508.78,271.40 509.83,271.31 510.87,270.86 511.92,271.44 512.96,271.38 514.01,271.47 515.05,271.51 516.10,271.14 517.14,271.23 518.19,271.37 519.24,271.59 520.28,271.29 521.33,271.34 522.37,270.83 523.42,270.90 524.46,271.44 525.51,270.78 526.55,271.25" fill="none" stroke="#2a2a2a" stroke-width="1.05" stroke-linejoin="round"/>
<polyline points="318.50,319.15 319.55,313.17 320.59,305.51 321.64,300.54 322.68,293.72 323.73,290.94 324.77,288.12 325.82,293.59 326.86,289.69 327.91,284.46 328.95,286.32 330.00,283.07 331.05,281.85 332.09,281.12 333.14,281.07 334.18,280.55 335.23,279.38 336.27,278.60 337.32,278.97 338.36,278.96 339.41,278.01 340.46,278.45 341.50,277.94 342.55,277.52 343.59,277.76 344.64,277.87 345.68,277.51 346.73,277.93 347.77,277.65 348.82,277.69 349.87,277.55 350.91,277.66 351.96,277.54 353.00,277.62 354.05,277.44 355.09,277.45 356.14,277.36 357.18,276.93 358.23,278.07 359.27,276.97 360.32,277.56 361.37,277.95 362.41,277.54 363.46,277.43 364.50,277.06 365.55,277.88 366.59,277.39 367.64,277.42 368.68,278.12 369.73,277.93 370.77,277.24 371.82,277.20 372.87,277.05 373.91,277.26 374.96,277.32 376.00,277.42 377.05,277.00 378.09,277.80 379.14,277.53 380.18,277.32 381.23,278.08 382.28,276.96 383.32,277.78 384.37,277.50 385.41,276.64 386.46,277.79 387.50,277.68 388.55,276.87 389.59,277.89 390.64,277.64 391.69,277.27 392.73,277.29 393.78,277.24 394.82,277.33 395.87,276.95 396.91,277.08 397.96,277.24 399.00,277.73 400.05,277.75 401.09,278.21 402.14,277.20 403.19,278.18 404.23,277.13 405.28,276.76 406.32,277.88 407.37,277.74 408.41,277.65 409.46,277.15 410.50,277.80 411.55,277.52 412.60,277.67 413.64,277.57 414.69,276.97 415.73,277.84 416.78,277.44 417.82,277.37 418.87,277.14 419.91,277.96 420.96,277.04 422.00,277.30 423.05,277.13 424.10,277.45 425.14,278.12 426.19,277.74 427.23,277.18 428.28,277.49 429.32,277.52 430.37,276.82 431.41,276.67 432.46,277.54 433.50,276.78 434.55,278.31 435.60,278.33 436.64,277.21 437.69,277.65 438.73,277.33 439.78,277.36 440.82,277.60 441.87,277.31 442.91,277.52 443.96,278.18 445.01,277.51 446.05,277.53 447.10,276.90 448.14,278.05 449.19,277.61 450.23,277.79 451.28,277.68 452.32,276.99 453.37,277.49 454.42,277.83 455.46,277.59 456.51,277.36 457.55,278.05 458.60,277.77 459.64,277.08 460.69,277.35 461.73,277.70 462.78,277.88 463.82,277.76 464.87,278.30 465.92,277.35 466.96,277.58 468.01,277.67 469.05,278.23 470.10,278.01 471.14,277.54 472.19,277.65 473.23,277.94 474.28,277.56 475.33,277.40 476.37,278.03 477.42,277.98 478.46,278.12 479.51,278.23 480.55,277.48 481.60,277.60 482.64,277.67 483.69,278.26 484.73,278.22 485.78,277.85 486.83,277.99 487.87,277.79 488.92,278.11 489.96,277.59 491.01,277.16 492.05,277.26 493.10,277.24 494.14,277.84 495.19,277.52 496.24,278.03 497.28,277.53 498.33,278.04 499.37,278.09 500.42,278.15 501.46,277.64 502.51,277.81 503.55,277.85 504.60,278.37 505.64,277.88 506.69,278.50 507.74,277.37 508.78,278.00 509.83,277.88 510.87,278.00 511.92,278.58 512.96,278.51 514.01,277.99 515.05,277.41 516.10,278.42 517.14,278.27 518.19,278.02 519.24,278.66 520.28,278.67 521.33,278.18 522.37,278.04 523.42,278.18 524.46,277.45 525.51,278.11 526.55,277.91" fill="none" stroke="#259425" stroke-width="1.0" stroke-linejoin="round"/>
<polyline points="318.50,440.70 319.55,440.62 320.59,440.49 321.64,440.63 322.68,440.29 323.73,440.54 324.77,440.27 325.82,439.99 326.86,440.40 327.91,440.27 328.95,440.09 330.00,438.66 331.05,439.77 332.09,415.59 333.14,421.68 334.18,382.36 335.23,359.69 336.27,341.62 337.32,332.85 338.36,333.90 339.41,340.34 340.46,342.02 341.50,344.08 342.55,342.92 343.59,323.71 344.64,335.68 345.68,319.62 346.73,325.48 347.77,316.15 348.82,326.61 349.87,309.16 350.91,315.17 351.96,313.57 353.00,305.49 354.05,300.67 355.09,313.24 356.14,305.94 357.18,314.33 358.23,304.44 359.27,308.13 360.32,298.29 361.37,301.36 362.41,299.22 363.46,299.63 364.50,291.15 365.55,352.70 366.59,286.57 367.64,289.48 368.68,297.06 369.73,299.86 370.77,289.92 371.82,298.48 372.87,290.15 373.91,291.98 374.96,291.25 376.00,287.72 377.05,291.38 378.09,296.14 379.14,297.01 380.18,287.80 381.23,281.18 382.28,294.68 383.32,280.91 384.37,290.52 385.41,288.26 386.46,288.26 387.50,279.76 388.55,288.93 389.59,280.97 390.64,280.03 391.69,279.77 392.73,284.91 393.78,281.17 394.82,280.68 395.87,279.85 396.91,281.82 397.96,282.59 399.00,288.25 400.05,284.22 401.09,283.25 402.14,278.12 403.19,277.18 404.23,282.80 405.28,283.19 406.32,283.06 407.37,298.36 408.41,282.70 409.46,281.82 410.50,280.37 411.55,281.14 412.60,275.99 413.64,277.81 414.69,279.65 415.73,278.03 416.78,281.03 417.82,277.57 418.87,276.72 419.91,279.82 420.96,278.87 422.00,278.95 423.05,280.93 424.10,277.45 425.14,278.12 426.19,278.88 427.23,279.36 428.28,278.15 429.32,276.24 430.37,276.84 431.41,275.58 432.46,274.98 433.50,280.76 434.55,277.88 435.60,276.51 436.64,278.03 437.69,275.99 438.73,276.90 439.78,276.17 440.82,276.51 441.87,277.32 442.91,278.09 443.96,275.96 445.01,274.42 446.05,276.86 447.10,275.80 448.14,274.57 449.19,275.15 450.23,275.42 451.28,275.70 452.32,273.95 453.37,274.71 454.42,273.88 455.46,274.30 456.51,275.37 457.55,274.67 458.60,273.56 459.64,274.55 460.69,274.82 461.73,274.91 462.78,274.00 463.82,274.42 464.87,273.20 465.92,275.11 466.96,273.88 468.01,274.51 469.05,273.50 470.10,273.76 471.14,273.46 472.19,273.16 473.23,273.68 474.28,274.33 475.33,273.34 476.37,273.68 477.42,273.25 478.46,273.70 479.51,273.01 480.55,273.51 481.60,272.91 482.64,273.21 483.69,273.13 484.73,273.06 485.78,273.52 486.83,273.35 487.87,272.67 488.92,272.71 489.96,272.99 491.01,272.99 492.05,272.59 493.10,273.33 494.14,273.03 495.19,272.19 496.24,271.85 497.28,272.21 498.33,272.41 499.37,271.93 500.42,272.55 501.46,272.16 502.51,271.64 503.55,272.15 504.60,271.88 505.64,271.96 506.69,272.44 507.74,271.54 508.78,272.04 509.83,271.82 510.87,271.62 511.92,272.18 512.96,271.63 514.01,271.77 515.05,271.93 516.10,271.56 517.14,271.97 518.19,271.97 519.24,271.61 520.28,272.03 521.33,271.03 522.37,271.21 523.42,271.13 524.46,271.53 525.51,271.23 526.55,271.16" fill="none" stroke="#1a1aff" stroke-width="1.05" stroke-linejoin="round" stroke-opacity="0.8"/>
<polyline points="318.50,440.61 319.55,440.48 320.59,440.06 321.64,439.65 322.68,439.38 323.73,438.83 324.77,430.68 325.82,432.81 326.86,427.26 327.91,421.25 328.95,433.06 330.00,438.51 331.05,439.65 332.09,437.37 333.14,438.07 334.18,438.56 335.23,402.30 336.27,363.27 337.32,366.50 338.36,392.78 339.41,362.83 340.46,345.80 341.50,342.07 342.55,338.43 343.59,328.06 344.64,324.01 345.68,328.97 346.73,316.17 347.77,320.19 348.82,321.90 349.87,321.81 350.91,307.60 351.96,310.24 353.00,314.20 354.05,302.08 355.09,311.39 356.14,306.29 357.18,315.68 358.23,307.36 359.27,302.79 360.32,294.86 361.37,301.18 362.41,297.58 363.46,316.54 364.50,302.68 365.55,302.09 366.59,295.89 367.64,288.06 368.68,294.90 369.73,304.19 370.77,290.11 371.82,296.58 372.87,293.61 373.91,287.38 374.96,288.66 376.00,319.24 377.05,292.01 378.09,292.59 379.14,285.97 380.18,286.14 381.23,288.06 382.28,289.52 383.32,289.26 384.37,292.09 385.41,281.07 386.46,278.80 387.50,283.77 388.55,282.56 389.59,284.55 390.64,284.86 391.69,283.90 392.73,276.77 393.78,281.82 394.82,279.03 395.87,287.45 396.91,278.42 397.96,280.56 399.00,284.11 400.05,282.64 401.09,288.38 402.14,280.62 403.19,281.11 404.23,275.29 405.28,280.74 406.32,281.27 407.37,282.40 408.41,276.13 409.46,279.62 410.50,279.45 411.55,276.56 412.60,279.41 413.64,277.04 414.69,280.78 415.73,279.62 416.78,277.62 417.82,281.58 418.87,275.64 419.91,277.26 420.96,275.83 422.00,277.86 423.05,278.39 424.10,277.88 425.14,275.98 426.19,278.25 427.23,276.88 428.28,274.21 429.32,273.43 430.37,274.37 431.41,275.51 432.46,275.92 433.50,278.76 434.55,275.56 435.60,274.06 436.64,271.62 437.69,274.33 438.73,274.62 439.78,275.01 440.82,276.50 441.87,272.20 442.91,273.61 443.96,272.61 445.01,275.59 446.05,271.72 447.10,275.19 448.14,272.64 449.19,272.09 450.23,274.39 451.28,274.47 452.32,272.95 453.37,274.18 454.42,274.61 455.46,273.34 456.51,273.88 457.55,272.73 458.60,273.54 459.64,271.50 460.69,273.68 461.73,273.13 462.78,271.56 463.82,273.74 464.87,271.95 465.92,271.32 466.96,273.34 468.01,271.77 469.05,271.64 470.10,271.16 471.14,272.61 472.19,272.82 473.23,271.16 474.28,271.48 475.33,271.20 476.37,271.28 477.42,271.65 478.46,271.20 479.51,270.88 480.55,271.63 481.60,269.93 482.64,270.74 483.69,271.67 484.73,270.48 485.78,271.36 486.83,270.25 487.87,269.79 488.92,271.02 489.96,269.77 491.01,270.01 492.05,269.86 493.10,269.36 494.14,270.14 495.19,270.33 496.24,270.46 497.28,270.34 498.33,269.88 499.37,269.59 500.42,269.42 501.46,269.08 502.51,269.53 503.55,268.78 504.60,269.42 505.64,268.60 506.69,268.88 507.74,269.59 508.78,269.51 509.83,268.86 510.87,269.01 511.92,268.55 512.96,268.59 514.01,268.84 515.05,269.00 516.10,269.28 517.14,268.79 518.19,268.22 519.24,268.40 520.28,268.87 521.33,268.29 522.37,268.08 523.42,268.53 524.46,268.10 525.51,268.01 526.55,268.40" fill="none" stroke="#ff1a1a" stroke-width="1.1" stroke-linejoin="round" stroke-opacity="0.88"/>
</g>
<rect x="308.3" y="259.7" width="229.00" height="189.20" fill="none" stroke="#a8a8a8" stroke-width="1.2"/>
<line x1="306.50" x2="308.30" y1="440.70" y2="440.70" stroke="#777" stroke-width="0.7"/>
<text x="297.40" y="443.30" font-size="7.8" textLength="8.10" lengthAdjust="spacingAndGlyphs" fill="#1a1a1a" stroke="#1a1a1a" stroke-width="0.15" >0.0</text>
<line x1="306.50" x2="308.30" y1="421.36" y2="421.36" stroke="#777" stroke-width="0.7"/>
<text x="297.40" y="423.96" font-size="7.8" textLength="8.10" lengthAdjust="spacingAndGlyphs" fill="#1a1a1a" stroke="#1a1a1a" stroke-width="0.15" >0.1</text>
<line x1="306.50" x2="308.30" y1="402.02" y2="402.02" stroke="#777" stroke-width="0.7"/>
<text x="297.40" y="404.62" font-size="7.8" textLength="8.10" lengthAdjust="spacingAndGlyphs" fill="#1a1a1a" stroke="#1a1a1a" stroke-width="0.15" >0.2</text>
<line x1="306.50" x2="308.30" y1="382.68" y2="382.68" stroke="#777" stroke-width="0.7"/>
<text x="297.40" y="385.28" font-size="7.8" textLength="8.10" lengthAdjust="spacingAndGlyphs" fill="#1a1a1a" stroke="#1a1a1a" stroke-width="0.15" >0.3</text>
<line x1="306.50" x2="308.30" y1="363.34" y2="363.34" stroke="#777" stroke-width="0.7"/>
<text x="297.40" y="365.94" font-size="7.8" textLength="8.10" lengthAdjust="spacingAndGlyphs" fill="#1a1a1a" stroke="#1a1a1a" stroke-width="0.15" >0.4</text>
<line x1="306.50" x2="308.30" y1="344.00" y2="344.00" stroke="#777" stroke-width="0.7"/>
<text x="297.40" y="346.60" font-size="7.8" textLength="8.10" lengthAdjust="spacingAndGlyphs" fill="#1a1a1a" stroke="#1a1a1a" stroke-width="0.15" >0.5</text>
<line x1="306.50" x2="308.30" y1="324.66" y2="324.66" stroke="#777" stroke-width="0.7"/>
<text x="297.40" y="327.26" font-size="7.8" textLength="8.10" lengthAdjust="spacingAndGlyphs" fill="#1a1a1a" stroke="#1a1a1a" stroke-width="0.15" >0.6</text>
<line x1="306.50" x2="308.30" y1="305.32" y2="305.32" stroke="#777" stroke-width="0.7"/>
<text x="297.40" y="307.92" font-size="7.8" textLength="8.10" lengthAdjust="spacingAndGlyphs" fill="#1a1a1a" stroke="#1a1a1a" stroke-width="0.15" >0.7</text>
<line x1="306.50" x2="308.30" y1="285.98" y2="285.98" stroke="#777" stroke-width="0.7"/>
<text x="297.40" y="288.58" font-size="7.8" textLength="8.10" lengthAdjust="spacingAndGlyphs" fill="#1a1a1a" stroke="#1a1a1a" stroke-width="0.15" >0.8</text>
<line x1="306.50" x2="308.30" y1="266.64" y2="266.64" stroke="#777" stroke-width="0.7"/>
<text x="297.40" y="269.24" font-size="7.8" textLength="8.10" lengthAdjust="spacingAndGlyphs" fill="#1a1a1a" stroke="#1a1a1a" stroke-width="0.15" >0.9</text>
<line x1="318.50" x2="318.50" y1="448.90" y2="450.70" stroke="#777" stroke-width="0.7"/>
<text x="316.53" y="457.30" font-size="7.8" textLength="3.94" lengthAdjust="spacingAndGlyphs" fill="#1a1a1a" stroke="#1a1a1a" stroke-width="0.15" >0</text>
<line x1="370.77" x2="370.77" y1="448.90" y2="450.70" stroke="#777" stroke-width="0.7"/>
<text x="367.62" y="457.30" font-size="7.8" textLength="6.30" lengthAdjust="spacingAndGlyphs" fill="#1a1a1a" stroke="#1a1a1a" stroke-width="0.15" >50</text>
<line x1="423.05" x2="423.05" y1="448.90" y2="450.70" stroke="#777" stroke-width="0.7"/>
<text x="418.32" y="457.30" font-size="7.8" textLength="9.45" lengthAdjust="spacingAndGlyphs" fill="#1a1a1a" stroke="#1a1a1a" stroke-width="0.15" >100</text>
<line x1="475.33" x2="475.33" y1="448.90" y2="450.70" stroke="#777" stroke-width="0.7"/>
<text x="470.60" y="457.30" font-size="7.8" textLength="9.45" lengthAdjust="spacingAndGlyphs" fill="#1a1a1a" stroke="#1a1a1a" stroke-width="0.15" >150</text>
<line x1="527.60" x2="527.60" y1="448.90" y2="450.70" stroke="#777" stroke-width="0.7"/>
<text x="522.88" y="457.30" font-size="7.8" textLength="9.45" lengthAdjust="spacingAndGlyphs" fill="#1a1a1a" stroke="#1a1a1a" stroke-width="0.15" >200</text>
<text x="412.85" y="466.30" font-size="7.8" textLength="19.30" lengthAdjust="spacingAndGlyphs" fill="#1a1a1a" stroke="#1a1a1a" stroke-width="0.15" >Epochs</text>
<text transform="translate(294.40,410.95) rotate(-90)" font-family="DejaVu Sans, sans-serif" font-size="6.1" textLength="113.50" lengthAdjust="spacingAndGlyphs" fill="#1a1a1a" stroke="#1a1a1a" stroke-width="0.1">Segmentation train mAP_0.5:0.95</text>
<text x="354.50" y="256.30" font-size="8.7" textLength="135.90" lengthAdjust="spacingAndGlyphs" fill="#1a1a1a" stroke="#1a1a1a" stroke-width="0.15" >Epochs &amp; Segmentation train mAP_0.5:0.95</text>
<rect x="461.90" y="389.30" width="72.80" height="56.50" rx="1.2" fill="#fff" fill-opacity="0.85" stroke="#d4d4d4" stroke-width="0.8"/>
<line x1="463.70" x2="475.90" y1="395.30" y2="395.30" stroke="#ffbfcb" stroke-width="1.2"/>
<text x="481.00" y="397.75" font-size="7.7" textLength="11.31" lengthAdjust="spacingAndGlyphs" fill="#1a1a1a" stroke="#1a1a1a" stroke-width="0.15" >FCN</text>
<line x1="463.70" x2="475.90" y1="406.10" y2="406.10" stroke="#000" stroke-width="1.1" stroke-opacity="0.75"/>
<text x="481.00" y="408.55" font-size="7.7" textLength="30.16" lengthAdjust="spacingAndGlyphs" fill="#1a1a1a" stroke="#1a1a1a" stroke-width="0.15" >DeepLabv3</text>
<line x1="463.70" x2="475.90" y1="416.90" y2="416.90" stroke="#259425" stroke-width="1.0"/>
<text x="481.00" y="419.35" font-size="7.7" textLength="33.28" lengthAdjust="spacingAndGlyphs" fill="#1a1a1a" stroke="#1a1a1a" stroke-width="0.15" >Mask-RCNN</text>
<line x1="463.70" x2="475.90" y1="427.70" y2="427.70" stroke="#1a1aff" stroke-width="1.4" stroke-opacity="0.7"/>
<text x="481.00" y="430.15" font-size="7.7" textLength="24.66" lengthAdjust="spacingAndGlyphs" fill="#1a1a1a" stroke="#1a1a1a" stroke-width="0.15" >YOLOv5s</text>
<line x1="463.70" x2="475.90" y1="438.50" y2="438.50" stroke="#ff1a1a" stroke-width="1.5" stroke-opacity="0.65"/>
<text x="481.00" y="440.95" font-size="7.7" textLength="50.40" lengthAdjust="spacingAndGlyphs" fill="#1a1a1a" stroke="#1a1a1a" stroke-width="0.15" >YOLOv5s_Res2Net</text>
<text x="414.50" y="488.00" font-family="Liberation Serif, serif" font-size="14.5" text-anchor="middle" fill="#111">(<tspan font-weight="bold">d</tspan>)</text>
</g>
</svg>
</body></html>
